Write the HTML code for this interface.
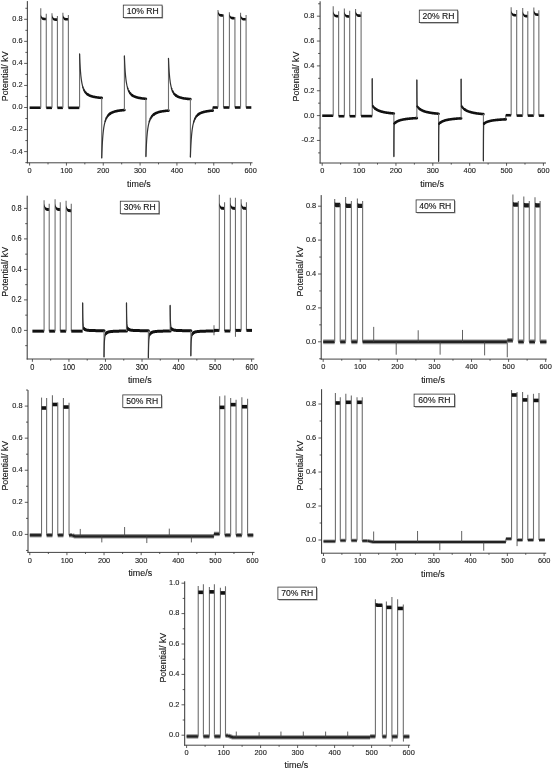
<!DOCTYPE html>
<html><head><meta charset="utf-8"><title>Potential vs time at various RH</title>
<style>html,body{margin:0;padding:0;background:#fff;overflow:hidden;} svg{display:block;}</style></head>
<body><svg width="553" height="769" viewBox="0 0 553 769">
<rect width="553" height="769" fill="#fff"/>
<g>
<line x1="27.35" y1="1.1" x2="27.35" y2="163.3" stroke="#333" stroke-width="1"/>
<line x1="26.85" y1="162.8" x2="252.5" y2="162.8" stroke="#444" stroke-width="1"/>
<line x1="25.35" y1="162.62" x2="27.35" y2="162.62" stroke="#333" stroke-width="0.8"/>
<line x1="24.15" y1="151.6" x2="27.35" y2="151.6" stroke="#333" stroke-width="0.8"/>
<text transform="translate(22.55,153.5) scale(1,0.98)" text-anchor="end" font-size="7.4" font-family="Liberation Sans, Arial, sans-serif" stroke="#1a1a1a" stroke-width="0.12" fill="#1a1a1a">-0.4</text>
<line x1="25.35" y1="140.57" x2="27.35" y2="140.57" stroke="#333" stroke-width="0.8"/>
<line x1="24.15" y1="129.55" x2="27.35" y2="129.55" stroke="#333" stroke-width="0.8"/>
<text transform="translate(22.55,131.45) scale(1,0.98)" text-anchor="end" font-size="7.4" font-family="Liberation Sans, Arial, sans-serif" stroke="#1a1a1a" stroke-width="0.12" fill="#1a1a1a">-0.2</text>
<line x1="25.35" y1="118.53" x2="27.35" y2="118.53" stroke="#333" stroke-width="0.8"/>
<line x1="24.15" y1="107.5" x2="27.35" y2="107.5" stroke="#333" stroke-width="0.8"/>
<text transform="translate(22.55,109.4) scale(1,0.98)" text-anchor="end" font-size="7.4" font-family="Liberation Sans, Arial, sans-serif" stroke="#1a1a1a" stroke-width="0.12" fill="#1a1a1a">0.0</text>
<line x1="25.35" y1="96.47" x2="27.35" y2="96.47" stroke="#333" stroke-width="0.8"/>
<line x1="24.15" y1="85.45" x2="27.35" y2="85.45" stroke="#333" stroke-width="0.8"/>
<text transform="translate(22.55,87.35) scale(1,0.98)" text-anchor="end" font-size="7.4" font-family="Liberation Sans, Arial, sans-serif" stroke="#1a1a1a" stroke-width="0.12" fill="#1a1a1a">0.2</text>
<line x1="25.35" y1="74.43" x2="27.35" y2="74.43" stroke="#333" stroke-width="0.8"/>
<line x1="24.15" y1="63.4" x2="27.35" y2="63.4" stroke="#333" stroke-width="0.8"/>
<text transform="translate(22.55,65.3) scale(1,0.98)" text-anchor="end" font-size="7.4" font-family="Liberation Sans, Arial, sans-serif" stroke="#1a1a1a" stroke-width="0.12" fill="#1a1a1a">0.4</text>
<line x1="25.35" y1="52.38" x2="27.35" y2="52.38" stroke="#333" stroke-width="0.8"/>
<line x1="24.15" y1="41.35" x2="27.35" y2="41.35" stroke="#333" stroke-width="0.8"/>
<text transform="translate(22.55,43.25) scale(1,0.98)" text-anchor="end" font-size="7.4" font-family="Liberation Sans, Arial, sans-serif" stroke="#1a1a1a" stroke-width="0.12" fill="#1a1a1a">0.6</text>
<line x1="25.35" y1="30.33" x2="27.35" y2="30.33" stroke="#333" stroke-width="0.8"/>
<line x1="24.15" y1="19.3" x2="27.35" y2="19.3" stroke="#333" stroke-width="0.8"/>
<text transform="translate(22.55,21.2) scale(1,0.98)" text-anchor="end" font-size="7.4" font-family="Liberation Sans, Arial, sans-serif" stroke="#1a1a1a" stroke-width="0.12" fill="#1a1a1a">0.8</text>
<line x1="25.35" y1="8.27" x2="27.35" y2="8.27" stroke="#333" stroke-width="0.8"/>
<line x1="29.6" y1="162.8" x2="29.6" y2="165.6" stroke="#333" stroke-width="0.8"/>
<text transform="translate(29.6,173.1) scale(1,0.98)" text-anchor="middle" font-size="7.4" font-family="Liberation Sans, Arial, sans-serif" stroke="#1a1a1a" stroke-width="0.12" fill="#1a1a1a">0</text>
<line x1="48.02" y1="162.8" x2="48.02" y2="164.4" stroke="#333" stroke-width="0.8"/>
<line x1="66.43" y1="162.8" x2="66.43" y2="165.6" stroke="#333" stroke-width="0.8"/>
<text transform="translate(66.43,173.1) scale(1,0.98)" text-anchor="middle" font-size="7.4" font-family="Liberation Sans, Arial, sans-serif" stroke="#1a1a1a" stroke-width="0.12" fill="#1a1a1a">100</text>
<line x1="84.84" y1="162.8" x2="84.84" y2="164.4" stroke="#333" stroke-width="0.8"/>
<line x1="103.26" y1="162.8" x2="103.26" y2="165.6" stroke="#333" stroke-width="0.8"/>
<text transform="translate(103.26,173.1) scale(1,0.98)" text-anchor="middle" font-size="7.4" font-family="Liberation Sans, Arial, sans-serif" stroke="#1a1a1a" stroke-width="0.12" fill="#1a1a1a">200</text>
<line x1="121.68" y1="162.8" x2="121.68" y2="164.4" stroke="#333" stroke-width="0.8"/>
<line x1="140.09" y1="162.8" x2="140.09" y2="165.6" stroke="#333" stroke-width="0.8"/>
<text transform="translate(140.09,173.1) scale(1,0.98)" text-anchor="middle" font-size="7.4" font-family="Liberation Sans, Arial, sans-serif" stroke="#1a1a1a" stroke-width="0.12" fill="#1a1a1a">300</text>
<line x1="158.5" y1="162.8" x2="158.5" y2="164.4" stroke="#333" stroke-width="0.8"/>
<line x1="176.92" y1="162.8" x2="176.92" y2="165.6" stroke="#333" stroke-width="0.8"/>
<text transform="translate(176.92,173.1) scale(1,0.98)" text-anchor="middle" font-size="7.4" font-family="Liberation Sans, Arial, sans-serif" stroke="#1a1a1a" stroke-width="0.12" fill="#1a1a1a">400</text>
<line x1="195.34" y1="162.8" x2="195.34" y2="164.4" stroke="#333" stroke-width="0.8"/>
<line x1="213.75" y1="162.8" x2="213.75" y2="165.6" stroke="#333" stroke-width="0.8"/>
<text transform="translate(213.75,173.1) scale(1,0.98)" text-anchor="middle" font-size="7.4" font-family="Liberation Sans, Arial, sans-serif" stroke="#1a1a1a" stroke-width="0.12" fill="#1a1a1a">500</text>
<line x1="232.16" y1="162.8" x2="232.16" y2="164.4" stroke="#333" stroke-width="0.8"/>
<line x1="250.58" y1="162.8" x2="250.58" y2="165.6" stroke="#333" stroke-width="0.8"/>
<text transform="translate(250.58,173.1) scale(1,0.98)" text-anchor="middle" font-size="7.4" font-family="Liberation Sans, Arial, sans-serif" stroke="#1a1a1a" stroke-width="0.12" fill="#1a1a1a">600</text>
<text x="138.93" y="186.6" text-anchor="middle" font-size="8.9" font-family="Liberation Sans, Arial, sans-serif" stroke="#222" stroke-width="0.12" fill="#111">time/s</text>
<text transform="translate(7.8,76.35) rotate(-90)" text-anchor="middle" font-size="8.9" font-family="Liberation Sans, Arial, sans-serif" stroke="#222" stroke-width="0.12" fill="#111">Potential/ kV</text>
<rect x="124.3" y="6.1" width="38.8" height="12.5" fill="#999"/>
<rect x="123.3" y="5.1" width="38.8" height="12.5" fill="#fff" stroke="#333" stroke-width="0.8"/>
<text x="142.7" y="14.25" text-anchor="middle" font-size="8.6" font-family="Liberation Sans, Arial, sans-serif" stroke="#222" stroke-width="0.12" fill="#111">10% RH</text>
<polyline points="29.6,107.72 40.76,107.72" fill="none" stroke="#111" stroke-width="2.6" stroke-linejoin="round"/>
<polyline points="40.76,107.72 40.76,8.27" fill="none" stroke="#6e6e6e" stroke-width="1.1"/>
<polygon points="40.83,14.45 41.22,15.68 41.61,16.44 42,16.91 42.39,17.2 42.78,17.38 43.17,17.49 43.56,17.56 43.95,17.6 44.34,17.63 44.73,17.64 45.12,17.65 45.51,17.66 45.89,17.66 46.28,17.67 46.28,20.27 45.89,20.26 45.51,20.26 45.12,20.25 44.73,20.24 44.34,20.23 43.95,20.2 43.56,20.16 43.17,20.09 42.78,19.98 42.39,19.8 42,19.51 41.61,19.04 41.22,18.28 40.83,17.05" fill="#111"/>
<polyline points="46.28,13.79 46.28,107.83" fill="none" stroke="#6e6e6e" stroke-width="1.1"/>
<polyline points="46.28,107.83 51.99,107.83" fill="none" stroke="#111" stroke-width="2.6" stroke-linejoin="round"/>
<polyline points="51.99,107.83 51.99,13.24" fill="none" stroke="#6e6e6e" stroke-width="1.1"/>
<polygon points="52.07,15.01 52.45,16.26 52.83,17.04 53.21,17.52 53.59,17.83 53.97,18.02 54.36,18.13 54.74,18.21 55.12,18.25 55.5,18.28 55.88,18.3 56.26,18.31 56.64,18.32 57.03,18.32 57.41,18.33 57.41,20.93 57.03,20.92 56.64,20.92 56.26,20.91 55.88,20.9 55.5,20.88 55.12,20.85 54.74,20.81 54.36,20.73 53.97,20.62 53.59,20.43 53.21,20.12 52.83,19.64 52.45,18.86 52.07,17.61" fill="#111"/>
<polyline points="57.41,15.99 57.41,107.83" fill="none" stroke="#6e6e6e" stroke-width="1.1"/>
<polyline points="57.41,107.83 62.89,107.83" fill="none" stroke="#111" stroke-width="2.6" stroke-linejoin="round"/>
<polyline points="62.89,107.83 62.89,12.69" fill="none" stroke="#6e6e6e" stroke-width="1.1"/>
<polygon points="62.97,14.98 63.35,16.13 63.74,16.84 64.13,17.28 64.51,17.55 64.9,17.72 65.29,17.83 65.67,17.89 66.06,17.93 66.45,17.96 66.84,17.97 67.22,17.98 67.61,17.99 68,17.99 68.38,18 68.38,20.6 68,20.59 67.61,20.59 67.22,20.58 66.84,20.57 66.45,20.56 66.06,20.53 65.67,20.49 65.29,20.43 64.9,20.32 64.51,20.15 64.13,19.88 63.74,19.44 63.35,18.73 62.97,17.58" fill="#111"/>
<polyline points="68.38,14.89 68.38,107.83" fill="none" stroke="#6e6e6e" stroke-width="1.1"/>
<polyline points="68.38,107.83 79.32,107.83" fill="none" stroke="#111" stroke-width="2.6" stroke-linejoin="round"/>
<polyline points="79.58,107.5 79.58,53.92" fill="none" stroke="#6e6e6e" stroke-width="1.1"/>
<polyline points="79.58,53.92 79.58,53.96 79.58,54.11 79.59,54.38 79.61,54.78 79.63,55.31 79.65,55.98 79.68,56.76 79.72,57.67 79.76,58.68 79.81,59.79 79.86,60.98 79.92,62.23 79.98,63.54 80.06,64.89 80.14,66.27 80.22,67.66 80.31,69.06 80.41,70.44 80.51,71.81 80.63,73.15 80.75,74.46 80.87,75.73 81,76.96 81.14,78.14 81.29,79.28 81.45,80.36 81.61,81.4 81.78,82.38 81.95,83.32 82.14,84.2 82.33,85.04 82.53,85.84 82.73,86.58 82.95,87.29" fill="none" stroke="#333333" stroke-width="1.2" stroke-linejoin="round" stroke-linecap="round"/>
<polyline points="82.95,87.29 83.17,87.95 83.4,88.58 83.64,89.16 83.88,89.72 84.13,90.24" fill="none" stroke="#2a2a2a" stroke-width="1.55" stroke-linejoin="round" stroke-linecap="round"/>
<polyline points="84.13,90.24 84.4,90.72 84.66,91.18 84.94,91.61 85.23,92.02 85.52,92.4" fill="none" stroke="#222222" stroke-width="1.9" stroke-linejoin="round" stroke-linecap="round"/>
<polyline points="85.52,92.4 85.82,92.76 86.13,93.09 86.45,93.41 86.77,93.7 87.11,93.98 87.45,94.25" fill="none" stroke="#191919" stroke-width="2.25" stroke-linejoin="round" stroke-linecap="round"/>
<polyline points="87.45,94.25 87.8,94.49 88.16,94.73 88.53,94.94 88.9,95.15 89.29,95.35 89.68,95.53 90.08,95.7 90.49,95.87 90.91,96.02 91.33,96.17 91.77,96.3 92.21,96.43 92.66,96.56 93.13,96.68 93.6,96.79 94.08,96.89 94.56,96.99 95.06,97.08 95.56,97.17 96.08,97.26 96.6,97.34 97.13,97.42 97.67,97.49 98.22,97.56 98.78,97.62 99.35,97.69 99.93,97.75 100.51,97.8 101.11,97.86 101.71,97.91" fill="none" stroke="#111111" stroke-width="2.6" stroke-linejoin="round" stroke-linecap="round"/>
<polyline points="101.71,97.91 101.71,157.88" fill="none" stroke="#6e6e6e" stroke-width="1.1"/>
<polyline points="101.71,157.88 101.71,157.84 101.72,157.67 101.73,157.37 101.74,156.92 101.76,156.33 101.79,155.59 101.82,154.72 101.86,153.71 101.9,152.59 101.95,151.37 102,150.05 102.06,148.66 102.13,147.21 102.2,145.72 102.28,144.21 102.37,142.67 102.46,141.14 102.57,139.63 102.67,138.13 102.79,136.66 102.91,135.23 103.04,133.85 103.17,132.51 103.32,131.22 103.47,129.99 103.63,128.81 103.79,127.69 103.97,126.63 104.15,125.62 104.34,124.66 104.53,123.76 104.74,122.9 104.95,122.1 105.17,121.34" fill="none" stroke="#333333" stroke-width="1.2" stroke-linejoin="round" stroke-linecap="round"/>
<polyline points="105.17,121.34 105.39,120.63 105.63,119.96 105.87,119.33 106.12,118.74 106.38,118.18" fill="none" stroke="#2a2a2a" stroke-width="1.55" stroke-linejoin="round" stroke-linecap="round"/>
<polyline points="106.38,118.18 106.65,117.66 106.93,117.17 107.21,116.71 107.5,116.28 107.8,115.88 108.11,115.5" fill="none" stroke="#222222" stroke-width="1.9" stroke-linejoin="round" stroke-linecap="round"/>
<polyline points="108.11,115.5 108.43,115.14 108.75,114.8 109.09,114.49 109.43,114.19 109.78,113.91" fill="none" stroke="#191919" stroke-width="2.25" stroke-linejoin="round" stroke-linecap="round"/>
<polyline points="109.78,113.91 110.14,113.65 110.51,113.4 110.88,113.17 111.27,112.95 111.66,112.74 112.06,112.55 112.48,112.37 112.9,112.19 113.32,112.03 113.76,111.87 114.21,111.73 114.66,111.59 115.13,111.46 115.6,111.34 116.08,111.22 116.57,111.11 117.07,111 117.58,110.9 118.1,110.81 118.63,110.72 119.16,110.64 119.71,110.56 120.26,110.48 120.82,110.41 121.4,110.34 121.98,110.27 122.57,110.21 123.17,110.15 123.78,110.09 124.4,110.04" fill="none" stroke="#111111" stroke-width="2.6" stroke-linejoin="round" stroke-linecap="round"/>
<polyline points="124.4,110.04 124.4,55.9" fill="none" stroke="#6e6e6e" stroke-width="1.1"/>
<polyline points="124.4,55.9 124.4,55.94 124.41,56.08 124.42,56.34 124.43,56.72 124.45,57.23 124.47,57.86 124.5,58.61 124.54,59.47 124.58,60.43 124.62,61.49 124.67,62.62 124.73,63.82 124.8,65.08 124.87,66.38 124.94,67.7 125.02,69.04 125.11,70.38 125.21,71.72 125.31,73.04 125.42,74.34 125.53,75.61 125.66,76.85 125.79,78.04 125.92,79.2 126.06,80.3 126.21,81.36 126.37,82.38 126.54,83.35 126.71,84.26 126.89,85.14 127.07,85.96 127.27,86.74 127.47,87.48 127.67,88.18" fill="none" stroke="#333333" stroke-width="1.2" stroke-linejoin="round" stroke-linecap="round"/>
<polyline points="127.67,88.18 127.89,88.83 128.11,89.45 128.34,90.04 128.58,90.58 128.83,91.1" fill="none" stroke="#2a2a2a" stroke-width="1.55" stroke-linejoin="round" stroke-linecap="round"/>
<polyline points="128.83,91.1 129.08,91.59 129.34,92.04 129.61,92.47 129.89,92.88 130.17,93.25" fill="none" stroke="#222222" stroke-width="1.9" stroke-linejoin="round" stroke-linecap="round"/>
<polyline points="130.17,93.25 130.47,93.61 130.77,93.95 131.08,94.26 131.39,94.56 131.72,94.84 132.05,95.1" fill="none" stroke="#191919" stroke-width="2.25" stroke-linejoin="round" stroke-linecap="round"/>
<polyline points="132.05,95.1 132.39,95.35 132.74,95.58 133.09,95.8 133.46,96.01 133.83,96.21 134.21,96.39 134.6,96.57 135,96.73 135.41,96.89 135.82,97.03 136.25,97.17 136.68,97.3 137.12,97.43 137.57,97.54 138.02,97.66 138.49,97.76 138.96,97.86 139.44,97.96 139.93,98.05 140.43,98.13 140.94,98.21 141.46,98.29 141.98,98.37 142.52,98.44 143.06,98.5 143.61,98.57 144.17,98.63 144.74,98.68 145.32,98.74 145.91,98.79" fill="none" stroke="#111111" stroke-width="2.6" stroke-linejoin="round" stroke-linecap="round"/>
<polyline points="145.91,98.79 145.91,156.56" fill="none" stroke="#6e6e6e" stroke-width="1.1"/>
<polyline points="145.91,156.56 145.91,156.52 145.92,156.36 145.93,156.07 145.94,155.64 145.96,155.07 145.98,154.37 146.02,153.53 146.05,152.57 146.09,151.5 146.14,150.32 146.2,149.06 146.26,147.73 146.32,146.35 146.4,144.92 146.48,143.46 146.56,142 146.66,140.53 146.76,139.07 146.86,137.63 146.98,136.23 147.1,134.85 147.23,133.52 147.36,132.24 147.51,131 147.66,129.82 147.81,128.69 147.98,127.61 148.15,126.58 148.33,125.61 148.52,124.69 148.71,123.82 148.92,123 149.13,122.23 149.35,121.5" fill="none" stroke="#333333" stroke-width="1.2" stroke-linejoin="round" stroke-linecap="round"/>
<polyline points="149.35,121.5 149.57,120.81 149.81,120.17 150.05,119.56 150.3,118.99 150.56,118.45" fill="none" stroke="#2a2a2a" stroke-width="1.55" stroke-linejoin="round" stroke-linecap="round"/>
<polyline points="150.56,118.45 150.82,117.95 151.1,117.48 151.38,117.04 151.67,116.62 151.97,116.23" fill="none" stroke="#222222" stroke-width="1.9" stroke-linejoin="round" stroke-linecap="round"/>
<polyline points="151.97,116.23 152.28,115.86 152.59,115.52 152.92,115.19 153.25,114.89 153.59,114.6 153.94,114.33" fill="none" stroke="#191919" stroke-width="2.25" stroke-linejoin="round" stroke-linecap="round"/>
<polyline points="153.94,114.33 154.29,114.08 154.66,113.84 155.03,113.61 155.42,113.4 155.81,113.2 156.21,113.02 156.62,112.84 157.04,112.67 157.46,112.51 157.9,112.36 158.34,112.22 158.8,112.09 159.26,111.96 159.73,111.84 160.21,111.73 160.7,111.62 161.19,111.52 161.7,111.43 162.21,111.34 162.74,111.25 163.27,111.17 163.82,111.09 164.37,111.02 164.93,110.94 165.5,110.88 166.08,110.81 166.67,110.75 167.26,110.69 167.87,110.64 168.49,110.59" fill="none" stroke="#111111" stroke-width="2.6" stroke-linejoin="round" stroke-linecap="round"/>
<polyline points="168.49,110.59 168.49,58.33" fill="none" stroke="#6e6e6e" stroke-width="1.1"/>
<polyline points="168.49,58.33 168.49,58.37 168.49,58.5 168.5,58.75 168.52,59.12 168.54,59.61 168.56,60.22 168.59,60.94 168.62,61.78 168.67,62.71 168.71,63.72 168.76,64.82 168.82,65.98 168.89,67.18 168.96,68.43 169.04,69.7 169.12,70.99 169.21,72.27 169.31,73.55 169.41,74.82 169.52,76.06 169.64,77.27 169.77,78.45 169.9,79.59 170.04,80.68 170.18,81.74 170.33,82.74 170.49,83.71 170.66,84.62 170.84,85.49 171.02,86.32 171.21,87.1 171.41,87.83 171.61,88.53" fill="none" stroke="#333333" stroke-width="1.2" stroke-linejoin="round" stroke-linecap="round"/>
<polyline points="171.61,88.53 171.82,89.19 172.04,89.81 172.27,90.39 172.5,90.94 172.75,91.45" fill="none" stroke="#2a2a2a" stroke-width="1.55" stroke-linejoin="round" stroke-linecap="round"/>
<polyline points="172.75,91.45 173,91.94 173.26,92.39 173.52,92.82 173.8,93.22 174.08,93.6 174.37,93.96" fill="none" stroke="#222222" stroke-width="1.9" stroke-linejoin="round" stroke-linecap="round"/>
<polyline points="174.37,93.96 174.67,94.29 174.97,94.61 175.29,94.9 175.61,95.18 175.94,95.44" fill="none" stroke="#191919" stroke-width="2.25" stroke-linejoin="round" stroke-linecap="round"/>
<polyline points="175.94,95.44 176.28,95.69 176.63,95.92 176.98,96.14 177.34,96.34 177.72,96.53 178.1,96.72 178.48,96.89 178.88,97.05 179.29,97.2 179.7,97.35 180.12,97.49 180.55,97.62 180.99,97.74 181.44,97.85 181.9,97.96 182.36,98.07 182.84,98.17 183.32,98.26 183.81,98.35 184.31,98.43 184.82,98.51 185.34,98.59 185.87,98.66 186.4,98.73 186.95,98.79 187.5,98.85 188.06,98.91 188.63,98.97 189.21,99.02 189.8,99.07 190.4,99.12" fill="none" stroke="#111111" stroke-width="2.6" stroke-linejoin="round" stroke-linecap="round"/>
<polyline points="190.4,99.12 190.4,157.11" fill="none" stroke="#6e6e6e" stroke-width="1.1"/>
<polyline points="190.4,157.11 190.4,157.07 190.41,156.91 190.42,156.62 190.43,156.19 190.45,155.62 190.47,154.92 190.5,154.08 190.54,153.12 190.58,152.04 190.63,150.86 190.68,149.6 190.74,148.26 190.81,146.87 190.88,145.43 190.96,143.97 191.05,142.49 191.14,141.01 191.24,139.54 191.34,138.09 191.46,136.67 191.58,135.29 191.7,133.94 191.84,132.64 191.98,131.39 192.13,130.19 192.28,129.04 192.45,127.95 192.62,126.91 192.79,125.92 192.98,124.99 193.17,124.1 193.37,123.27 193.58,122.48 193.8,121.74" fill="none" stroke="#333333" stroke-width="1.2" stroke-linejoin="round" stroke-linecap="round"/>
<polyline points="193.8,121.74 194.02,121.04 194.25,120.38 194.49,119.77 194.74,119.18 194.99,118.64" fill="none" stroke="#2a2a2a" stroke-width="1.55" stroke-linejoin="round" stroke-linecap="round"/>
<polyline points="194.99,118.64 195.26,118.12 195.53,117.64 195.81,117.19 196.09,116.76 196.39,116.36 196.69,115.99" fill="none" stroke="#222222" stroke-width="1.9" stroke-linejoin="round" stroke-linecap="round"/>
<polyline points="196.69,115.99 197.01,115.64 197.33,115.31 197.65,114.99 197.99,114.7 198.34,114.43" fill="none" stroke="#191919" stroke-width="2.25" stroke-linejoin="round" stroke-linecap="round"/>
<polyline points="198.34,114.43 198.69,114.17 199.05,113.92 199.42,113.69 199.8,113.48 200.19,113.27 200.58,113.08 200.99,112.9 201.4,112.73 201.82,112.56 202.25,112.41 202.69,112.27 203.14,112.13 203.6,112 204.06,111.88 204.53,111.76 205.02,111.65 205.51,111.55 206.01,111.45 206.52,111.36 207.04,111.27 207.56,111.18 208.1,111.1 208.65,111.03 209.2,110.95 209.76,110.89 210.34,110.82 210.92,110.76 211.51,110.7 212.11,110.64 212.72,110.59" fill="none" stroke="#111111" stroke-width="2.6" stroke-linejoin="round" stroke-linecap="round"/>
<polyline points="212.72,110.59 212.72,107.5" fill="none" stroke="#444" stroke-width="0.85"/>
<polyline points="212.72,107.5 217.99,107.5" fill="none" stroke="#111" stroke-width="2.6" stroke-linejoin="round"/>
<polyline points="217.99,107.5 217.99,9.93" fill="none" stroke="#6e6e6e" stroke-width="1.1"/>
<polygon points="218.06,11.12 218.45,12.27 218.84,12.99 219.23,13.43 219.62,13.7 220.01,13.87 220.4,13.97 220.78,14.04 221.17,14.08 221.56,14.1 221.95,14.12 222.34,14.13 222.73,14.13 223.12,14.14 223.51,14.14 223.51,16.74 223.12,16.74 222.73,16.73 222.34,16.73 221.95,16.72 221.56,16.7 221.17,16.68 220.78,16.64 220.4,16.57 220.01,16.47 219.62,16.3 219.23,16.03 218.84,15.59 218.45,14.87 218.06,13.72" fill="#111"/>
<polyline points="223.51,14.89 223.51,107.5" fill="none" stroke="#6e6e6e" stroke-width="1.1"/>
<polyline points="223.51,107.5 229.4,107.5" fill="none" stroke="#111" stroke-width="2.6" stroke-linejoin="round"/>
<polyline points="229.4,107.5 229.4,12.13" fill="none" stroke="#6e6e6e" stroke-width="1.1"/>
<polygon points="229.48,13.88 229.87,15.03 230.26,15.74 230.64,16.18 231.03,16.46 231.42,16.62 231.81,16.73 232.2,16.79 232.59,16.83 232.98,16.86 233.37,16.87 233.76,16.88 234.15,16.89 234.54,16.89 234.93,16.89 234.93,19.49 234.54,19.49 234.15,19.49 233.76,19.48 233.37,19.47 232.98,19.46 232.59,19.43 232.2,19.39 231.81,19.33 231.42,19.22 231.03,19.06 230.64,18.78 230.26,18.34 229.87,17.63 229.48,16.48" fill="#111"/>
<polyline points="234.93,17.09 234.93,107.5" fill="none" stroke="#6e6e6e" stroke-width="1.1"/>
<polyline points="234.93,107.5 240.56,107.5" fill="none" stroke="#111" stroke-width="2.6" stroke-linejoin="round"/>
<polyline points="240.56,107.5 240.56,12.69" fill="none" stroke="#6e6e6e" stroke-width="1.1"/>
<polygon points="240.64,14.48 241.03,15.82 241.41,16.65 241.8,17.17 242.19,17.48 242.58,17.68 242.97,17.8 243.36,17.88 243.75,17.92 244.14,17.95 244.53,17.97 244.92,17.98 245.31,17.99 245.7,17.99 246.09,18 246.09,20.6 245.7,20.59 245.31,20.59 244.92,20.58 244.53,20.57 244.14,20.55 243.75,20.52 243.36,20.48 242.97,20.4 242.58,20.28 242.19,20.08 241.8,19.77 241.41,19.25 241.03,18.42 240.64,17.08" fill="#111"/>
<polyline points="246.09,14.89 246.09,107.5" fill="none" stroke="#6e6e6e" stroke-width="1.1"/>
<polyline points="246.09,107.5 251.32,107.5" fill="none" stroke="#111" stroke-width="2.6" stroke-linejoin="round"/>
</g>
<g>
<line x1="320.1" y1="1.3" x2="320.1" y2="163.5" stroke="#333" stroke-width="1"/>
<line x1="319.6" y1="163" x2="546" y2="163" stroke="#444" stroke-width="1"/>
<line x1="318.1" y1="152.88" x2="320.1" y2="152.88" stroke="#333" stroke-width="0.8"/>
<line x1="316.9" y1="140.45" x2="320.1" y2="140.45" stroke="#333" stroke-width="0.8"/>
<text transform="translate(314.35,142.43) scale(1,1.01)" text-anchor="end" font-size="7.4" font-family="Liberation Sans, Arial, sans-serif" stroke="#1a1a1a" stroke-width="0.12" fill="#1a1a1a">-0.2</text>
<line x1="318.1" y1="128.03" x2="320.1" y2="128.03" stroke="#333" stroke-width="0.8"/>
<line x1="316.9" y1="115.6" x2="320.1" y2="115.6" stroke="#333" stroke-width="0.8"/>
<text transform="translate(314.35,117.58) scale(1,1.01)" text-anchor="end" font-size="7.4" font-family="Liberation Sans, Arial, sans-serif" stroke="#1a1a1a" stroke-width="0.12" fill="#1a1a1a">0.0</text>
<line x1="318.1" y1="103.17" x2="320.1" y2="103.17" stroke="#333" stroke-width="0.8"/>
<line x1="316.9" y1="90.75" x2="320.1" y2="90.75" stroke="#333" stroke-width="0.8"/>
<text transform="translate(314.35,92.73) scale(1,1.01)" text-anchor="end" font-size="7.4" font-family="Liberation Sans, Arial, sans-serif" stroke="#1a1a1a" stroke-width="0.12" fill="#1a1a1a">0.2</text>
<line x1="318.1" y1="78.32" x2="320.1" y2="78.32" stroke="#333" stroke-width="0.8"/>
<line x1="316.9" y1="65.9" x2="320.1" y2="65.9" stroke="#333" stroke-width="0.8"/>
<text transform="translate(314.35,67.88) scale(1,1.01)" text-anchor="end" font-size="7.4" font-family="Liberation Sans, Arial, sans-serif" stroke="#1a1a1a" stroke-width="0.12" fill="#1a1a1a">0.4</text>
<line x1="318.1" y1="53.47" x2="320.1" y2="53.47" stroke="#333" stroke-width="0.8"/>
<line x1="316.9" y1="41.05" x2="320.1" y2="41.05" stroke="#333" stroke-width="0.8"/>
<text transform="translate(314.35,43.03) scale(1,1.01)" text-anchor="end" font-size="7.4" font-family="Liberation Sans, Arial, sans-serif" stroke="#1a1a1a" stroke-width="0.12" fill="#1a1a1a">0.6</text>
<line x1="318.1" y1="28.62" x2="320.1" y2="28.62" stroke="#333" stroke-width="0.8"/>
<line x1="316.9" y1="16.2" x2="320.1" y2="16.2" stroke="#333" stroke-width="0.8"/>
<text transform="translate(314.35,18.18) scale(1,1.01)" text-anchor="end" font-size="7.4" font-family="Liberation Sans, Arial, sans-serif" stroke="#1a1a1a" stroke-width="0.12" fill="#1a1a1a">0.8</text>
<line x1="318.1" y1="3.77" x2="320.1" y2="3.77" stroke="#333" stroke-width="0.8"/>
<line x1="322.2" y1="163" x2="322.2" y2="165.8" stroke="#333" stroke-width="0.8"/>
<text transform="translate(322.2,173.38) scale(1,1.01)" text-anchor="middle" font-size="7.4" font-family="Liberation Sans, Arial, sans-serif" stroke="#1a1a1a" stroke-width="0.12" fill="#1a1a1a">0</text>
<line x1="340.63" y1="163" x2="340.63" y2="164.6" stroke="#333" stroke-width="0.8"/>
<line x1="359.07" y1="163" x2="359.07" y2="165.8" stroke="#333" stroke-width="0.8"/>
<text transform="translate(359.07,173.38) scale(1,1.01)" text-anchor="middle" font-size="7.4" font-family="Liberation Sans, Arial, sans-serif" stroke="#1a1a1a" stroke-width="0.12" fill="#1a1a1a">100</text>
<line x1="377.5" y1="163" x2="377.5" y2="164.6" stroke="#333" stroke-width="0.8"/>
<line x1="395.94" y1="163" x2="395.94" y2="165.8" stroke="#333" stroke-width="0.8"/>
<text transform="translate(395.94,173.38) scale(1,1.01)" text-anchor="middle" font-size="7.4" font-family="Liberation Sans, Arial, sans-serif" stroke="#1a1a1a" stroke-width="0.12" fill="#1a1a1a">200</text>
<line x1="414.38" y1="163" x2="414.38" y2="164.6" stroke="#333" stroke-width="0.8"/>
<line x1="432.81" y1="163" x2="432.81" y2="165.8" stroke="#333" stroke-width="0.8"/>
<text transform="translate(432.81,173.38) scale(1,1.01)" text-anchor="middle" font-size="7.4" font-family="Liberation Sans, Arial, sans-serif" stroke="#1a1a1a" stroke-width="0.12" fill="#1a1a1a">300</text>
<line x1="451.25" y1="163" x2="451.25" y2="164.6" stroke="#333" stroke-width="0.8"/>
<line x1="469.68" y1="163" x2="469.68" y2="165.8" stroke="#333" stroke-width="0.8"/>
<text transform="translate(469.68,173.38) scale(1,1.01)" text-anchor="middle" font-size="7.4" font-family="Liberation Sans, Arial, sans-serif" stroke="#1a1a1a" stroke-width="0.12" fill="#1a1a1a">400</text>
<line x1="488.12" y1="163" x2="488.12" y2="164.6" stroke="#333" stroke-width="0.8"/>
<line x1="506.55" y1="163" x2="506.55" y2="165.8" stroke="#333" stroke-width="0.8"/>
<text transform="translate(506.55,173.38) scale(1,1.01)" text-anchor="middle" font-size="7.4" font-family="Liberation Sans, Arial, sans-serif" stroke="#1a1a1a" stroke-width="0.12" fill="#1a1a1a">500</text>
<line x1="524.99" y1="163" x2="524.99" y2="164.6" stroke="#333" stroke-width="0.8"/>
<line x1="543.42" y1="163" x2="543.42" y2="165.8" stroke="#333" stroke-width="0.8"/>
<text transform="translate(543.42,173.38) scale(1,1.01)" text-anchor="middle" font-size="7.4" font-family="Liberation Sans, Arial, sans-serif" stroke="#1a1a1a" stroke-width="0.12" fill="#1a1a1a">600</text>
<text x="432.05" y="186.8" text-anchor="middle" font-size="8.9" font-family="Liberation Sans, Arial, sans-serif" stroke="#222" stroke-width="0.12" fill="#111">time/s</text>
<text transform="translate(299,76.55) rotate(-90)" text-anchor="middle" font-size="8.9" font-family="Liberation Sans, Arial, sans-serif" stroke="#222" stroke-width="0.12" fill="#111">Potential/ kV</text>
<rect x="420.3" y="11.1" width="38.4" height="12.5" fill="#999"/>
<rect x="419.3" y="10.1" width="38.4" height="12.5" fill="#fff" stroke="#333" stroke-width="0.8"/>
<text x="438.5" y="19.25" text-anchor="middle" font-size="8.6" font-family="Liberation Sans, Arial, sans-serif" stroke="#222" stroke-width="0.12" fill="#111">20% RH</text>
<polyline points="322.2,115.72 333.22,115.72" fill="none" stroke="#111" stroke-width="2.6" stroke-linejoin="round"/>
<polyline points="333.22,115.72 333.22,6.26" fill="none" stroke="#6e6e6e" stroke-width="1.1"/>
<polygon points="333.3,10.93 333.68,12.42 334.06,13.35 334.44,13.93 334.83,14.3 335.21,14.52 335.59,14.66 335.97,14.75 336.35,14.81 336.73,14.84 337.12,14.86 337.5,14.88 337.88,14.89 338.26,14.89 338.64,14.89 338.64,17.49 338.26,17.49 337.88,17.49 337.5,17.48 337.12,17.46 336.73,17.44 336.35,17.41 335.97,17.35 335.59,17.26 335.21,17.12 334.83,16.9 334.44,16.53 334.06,15.95 333.68,15.02 333.3,13.53" fill="#111"/>
<polyline points="338.64,11.23 338.64,116.22" fill="none" stroke="#6e6e6e" stroke-width="1.1"/>
<polyline points="338.64,116.22 344.36,116.22" fill="none" stroke="#111" stroke-width="2.6" stroke-linejoin="round"/>
<polyline points="344.36,116.22 344.36,8.5" fill="none" stroke="#6e6e6e" stroke-width="1.1"/>
<polygon points="344.43,11.52 344.81,12.86 345.18,13.7 345.55,14.24 345.93,14.57 346.3,14.79 346.68,14.92 347.05,15 347.42,15.06 347.8,15.09 348.17,15.11 348.55,15.13 348.92,15.13 349.29,15.14 349.67,15.14 349.67,17.74 349.29,17.74 348.92,17.73 348.55,17.73 348.17,17.71 347.8,17.69 347.42,17.66 347.05,17.6 346.68,17.52 346.3,17.39 345.93,17.17 345.55,16.84 345.18,16.3 344.81,15.46 344.43,14.12" fill="#111"/>
<polyline points="349.67,10.73 349.67,116.22" fill="none" stroke="#6e6e6e" stroke-width="1.1"/>
<polyline points="349.67,116.22 355.57,116.22" fill="none" stroke="#111" stroke-width="2.6" stroke-linejoin="round"/>
<polyline points="355.57,116.22 355.57,9.12" fill="none" stroke="#6e6e6e" stroke-width="1.1"/>
<polygon points="355.64,10.89 356.03,12.23 356.42,13.06 356.81,13.57 357.2,13.89 357.59,14.08 357.98,14.21 358.37,14.28 358.76,14.33 359.15,14.36 359.54,14.37 359.93,14.39 360.32,14.39 360.71,14.4 361.1,14.4 361.1,17 360.71,17 360.32,16.99 359.93,16.99 359.54,16.97 359.15,16.96 358.76,16.93 358.37,16.88 357.98,16.81 357.59,16.68 357.2,16.49 356.81,16.17 356.42,15.66 356.03,14.83 355.64,13.49" fill="#111"/>
<polyline points="361.1,11.85 361.1,116.1" fill="none" stroke="#6e6e6e" stroke-width="1.1"/>
<polyline points="361.1,116.1 372.23,116.1" fill="none" stroke="#111" stroke-width="2.6" stroke-linejoin="round"/>
<polyline points="372.23,115.85 372.23,78.7" fill="none" stroke="#6e6e6e" stroke-width="1.1"/>
<polyline points="372.23,78.7 372.23,79.1 372.24,80.5 372.25,82.89 372.26,86.04 372.28,89.62 372.31,93.24 372.33,96.56 372.37,99.38 372.41,101.58 372.46,103.18 372.51,104.28 372.57,104.99 372.63,105.45 372.7,105.74" fill="none" stroke="#333333" stroke-width="1.2" stroke-linejoin="round" stroke-linecap="round"/>
<polyline points="372.7,105.74 372.78,105.95" fill="none" stroke="#2a2a2a" stroke-width="1.55" stroke-linejoin="round" stroke-linecap="round"/>
<polyline points="372.78,105.95 372.86,106.11 372.95,106.25 373.05,106.39 373.15,106.53 373.26,106.67 373.37,106.82" fill="none" stroke="#222222" stroke-width="1.9" stroke-linejoin="round" stroke-linecap="round"/>
<polyline points="373.37,106.82 373.5,106.96 373.63,107.12 373.76,107.27 373.91,107.43 374.06,107.58 374.22,107.74 374.38,107.9 374.55,108.06 374.73,108.23 374.92,108.39 375.12,108.55 375.32,108.7" fill="none" stroke="#191919" stroke-width="2.25" stroke-linejoin="round" stroke-linecap="round"/>
<polyline points="375.32,108.7 375.53,108.86 375.74,109.02 375.97,109.17 376.2,109.32 376.44,109.48 376.69,109.62 376.94,109.77 377.21,109.91 377.48,110.05 377.76,110.19 378.04,110.33 378.34,110.46 378.64,110.59 378.95,110.72 379.27,110.84 379.59,110.96 379.93,111.08 380.27,111.2 380.62,111.31 380.98,111.42 381.35,111.52 381.72,111.63 382.11,111.73 382.5,111.83 382.9,111.93 383.31,112.02 383.73,112.11 384.15,112.2 384.59,112.28 385.03,112.37 385.48,112.45 385.94,112.53 386.41,112.61 386.88,112.68 387.37,112.75 387.86,112.83 388.37,112.89 388.88,112.96 389.4,113.03 389.93,113.09 390.46,113.15 391.01,113.21 391.57,113.27 392.13,113.33 392.7,113.38 393.28,113.44 393.88,113.49" fill="none" stroke="#111111" stroke-width="2.6" stroke-linejoin="round" stroke-linecap="round"/>
<polyline points="393.88,113.49 393.88,156.6" fill="none" stroke="#6e6e6e" stroke-width="1.1"/>
<polyline points="393.88,156.6 393.88,156.08 393.88,154.26 393.89,151.17 393.91,147.13 393.93,142.6 393.95,138.08 393.98,134 394.02,130.63 394.06,128.07 394.11,126.27 394.17,125.08 394.23,124.35 394.3,123.91 394.37,123.64" fill="none" stroke="#333333" stroke-width="1.2" stroke-linejoin="round" stroke-linecap="round"/>
<polyline points="394.37,123.64 394.45,123.47" fill="none" stroke="#2a2a2a" stroke-width="1.55" stroke-linejoin="round" stroke-linecap="round"/>
<polyline points="394.45,123.47 394.54,123.34" fill="none" stroke="#222222" stroke-width="1.9" stroke-linejoin="round" stroke-linecap="round"/>
<polyline points="394.54,123.34 394.64,123.24 394.74,123.13 394.85,123.03 394.96,122.93 395.09,122.82 395.22,122.71 395.35,122.6 395.5,122.49" fill="none" stroke="#191919" stroke-width="2.25" stroke-linejoin="round" stroke-linecap="round"/>
<polyline points="395.5,122.49 395.65,122.37 395.81,122.26 395.98,122.14 396.16,122.02 396.34,121.91 396.53,121.79 396.73,121.67 396.94,121.56 397.15,121.44 397.37,121.33 397.6,121.22 397.84,121.11 398.09,121 398.34,120.89 398.6,120.78 398.87,120.68 399.15,120.58 399.44,120.48 399.74,120.38 400.04,120.28 400.35,120.19 400.67,120.1 401,120.01 401.34,119.92 401.69,119.84 402.04,119.75 402.41,119.67 402.78,119.59 403.16,119.52 403.55,119.44 403.95,119.37 404.36,119.3 404.77,119.23 405.2,119.16 405.63,119.1 406.07,119.03 406.53,118.97 406.99,118.91 407.46,118.85 407.93,118.8 408.42,118.74 408.92,118.69 409.43,118.64 409.94,118.59 410.46,118.54 411,118.49 411.54,118.45 412.09,118.4 412.65,118.36 413.22,118.31 413.8,118.27 414.39,118.23 414.99,118.2 415.6,118.16 416.22,118.12 416.85,118.08" fill="none" stroke="#111111" stroke-width="2.6" stroke-linejoin="round" stroke-linecap="round"/>
<polyline points="416.85,118.08 416.85,79.94" fill="none" stroke="#6e6e6e" stroke-width="1.1"/>
<polyline points="416.85,79.94 416.85,80.33 416.85,81.7 416.86,84.03 416.88,87.11 416.89,90.59 416.92,94.12 416.95,97.35 416.98,100.08 417.02,102.21 417.07,103.76 417.12,104.82 417.18,105.51 417.24,105.95 417.32,106.23" fill="none" stroke="#333333" stroke-width="1.2" stroke-linejoin="round" stroke-linecap="round"/>
<polyline points="417.32,106.23 417.39,106.43" fill="none" stroke="#2a2a2a" stroke-width="1.55" stroke-linejoin="round" stroke-linecap="round"/>
<polyline points="417.39,106.43 417.48,106.58 417.57,106.72 417.66,106.86 417.77,106.99 417.88,107.13" fill="none" stroke="#222222" stroke-width="1.9" stroke-linejoin="round" stroke-linecap="round"/>
<polyline points="417.88,107.13 417.99,107.27 418.12,107.41 418.25,107.56 418.38,107.71 418.53,107.86 418.68,108.02 418.84,108.17 419.01,108.33 419.18,108.48 419.36,108.64 419.55,108.79 419.74,108.95" fill="none" stroke="#191919" stroke-width="2.25" stroke-linejoin="round" stroke-linecap="round"/>
<polyline points="419.74,108.95 419.95,109.1 420.16,109.26 420.37,109.41 420.6,109.56 420.83,109.71 421.07,109.85 421.32,110 421.58,110.14 421.84,110.28 422.12,110.41 422.4,110.55 422.68,110.68 422.98,110.81 423.28,110.93 423.6,111.05 423.92,111.17 424.24,111.29 424.58,111.41 424.92,111.52 425.28,111.63 425.64,111.73 426.01,111.84 426.38,111.94 426.77,112.04 427.16,112.13 427.57,112.23 427.98,112.32 428.4,112.4 428.83,112.49 429.26,112.57 429.71,112.65 430.16,112.73 430.62,112.81 431.09,112.88 431.57,112.96 432.06,113.03 432.56,113.1 433.06,113.16 433.58,113.23 434.1,113.29 434.63,113.35 435.17,113.41 435.72,113.47 436.28,113.53 436.84,113.58 437.42,113.63 438,113.69 438.6,113.74" fill="none" stroke="#111111" stroke-width="2.6" stroke-linejoin="round" stroke-linecap="round"/>
<polyline points="438.6,113.74 438.6,161.32" fill="none" stroke="#6e6e6e" stroke-width="1.1"/>
<polyline points="438.6,161.32 438.6,160.74 438.61,158.71 438.62,155.26 438.63,150.73 438.65,145.63 438.67,140.53 438.7,135.9 438.74,132.05 438.78,129.1 438.83,127.01 438.88,125.62 438.95,124.76 439.01,124.24 439.09,123.94" fill="none" stroke="#333333" stroke-width="1.2" stroke-linejoin="round" stroke-linecap="round"/>
<polyline points="439.09,123.94 439.17,123.74" fill="none" stroke="#2a2a2a" stroke-width="1.55" stroke-linejoin="round" stroke-linecap="round"/>
<polyline points="439.17,123.74 439.25,123.61" fill="none" stroke="#222222" stroke-width="1.9" stroke-linejoin="round" stroke-linecap="round"/>
<polyline points="439.25,123.61 439.34,123.5 439.44,123.39 439.55,123.29 439.67,123.19 439.79,123.08 439.91,122.97 440.05,122.86 440.19,122.75" fill="none" stroke="#191919" stroke-width="2.25" stroke-linejoin="round" stroke-linecap="round"/>
<polyline points="440.19,122.75 440.34,122.64 440.5,122.52 440.66,122.41 440.84,122.29 441.02,122.18 441.2,122.06 441.4,121.94 441.6,121.83 441.81,121.72 442.03,121.6 442.25,121.49 442.49,121.38 442.73,121.27 442.98,121.16 443.24,121.06 443.5,120.95 443.78,120.85 444.06,120.75 444.35,120.65 444.65,120.55 444.95,120.46 445.27,120.37 445.59,120.28 445.92,120.19 446.26,120.1 446.61,120.02 446.97,119.94 447.33,119.86 447.7,119.78 448.09,119.71 448.48,119.63 448.88,119.56 449.29,119.49 449.7,119.42 450.13,119.36 450.56,119.3 451,119.23 451.46,119.17 451.92,119.11 452.39,119.06 452.87,119 453.35,118.95 453.85,118.89 454.35,118.84 454.87,118.79 455.39,118.75 455.92,118.7 456.47,118.65 457.02,118.61 457.58,118.57 458.14,118.53 458.72,118.48 459.31,118.45 459.91,118.41 460.51,118.37 461.13,118.33" fill="none" stroke="#111111" stroke-width="2.6" stroke-linejoin="round" stroke-linecap="round"/>
<polyline points="461.13,118.33 461.13,79.07" fill="none" stroke="#6e6e6e" stroke-width="1.1"/>
<polyline points="461.13,79.07 461.13,79.48 461.13,80.92 461.14,83.35 461.16,86.56 461.18,90.18 461.2,93.82 461.23,97.14 461.27,99.92 461.31,102.07 461.36,103.62 461.41,104.67 461.47,105.35 461.54,105.78 461.61,106.06" fill="none" stroke="#333333" stroke-width="1.2" stroke-linejoin="round" stroke-linecap="round"/>
<polyline points="461.61,106.06 461.69,106.27" fill="none" stroke="#2a2a2a" stroke-width="1.55" stroke-linejoin="round" stroke-linecap="round"/>
<polyline points="461.69,106.27 461.77,106.43 461.86,106.58 461.96,106.72 462.07,106.87 462.18,107.02 462.3,107.17 462.43,107.33" fill="none" stroke="#222222" stroke-width="1.9" stroke-linejoin="round" stroke-linecap="round"/>
<polyline points="462.43,107.33 462.56,107.49 462.7,107.65 462.85,107.82 463,107.98 463.17,108.15 463.34,108.32 463.52,108.49 463.7,108.66 463.89,108.82 464.09,108.99 464.3,109.16 464.52,109.32" fill="none" stroke="#191919" stroke-width="2.25" stroke-linejoin="round" stroke-linecap="round"/>
<polyline points="464.52,109.32 464.74,109.49 464.97,109.65 465.21,109.81 465.46,109.96 465.71,110.12 465.97,110.27 466.24,110.42 466.52,110.57 466.81,110.71 467.1,110.85 467.41,110.99 467.72,111.12 468.04,111.26 468.36,111.38 468.7,111.51 469.04,111.63 469.4,111.75 469.76,111.87 470.13,111.98 470.51,112.09 470.89,112.2 471.29,112.3 471.69,112.41 472.1,112.51 472.52,112.6 472.95,112.7 473.39,112.79 473.84,112.88 474.29,112.96 474.76,113.05 475.23,113.13 475.71,113.21 476.2,113.28 476.7,113.36 477.21,113.43 477.73,113.5 478.25,113.57 478.79,113.64 479.33,113.7 479.89,113.77 480.45,113.83 481.02,113.89 481.6,113.94 482.19,114 482.79,114.06 483.4,114.11" fill="none" stroke="#111111" stroke-width="2.6" stroke-linejoin="round" stroke-linecap="round"/>
<polyline points="483.4,114.11 483.4,160.83" fill="none" stroke="#6e6e6e" stroke-width="1.1"/>
<polyline points="483.4,160.83 483.4,160.25 483.4,158.26 483.41,154.87 483.43,150.42 483.45,145.4 483.47,140.37 483.5,135.79 483.54,131.98 483.58,129.05 483.63,126.97 483.68,125.59 483.74,124.73 483.81,124.22 483.88,123.92" fill="none" stroke="#333333" stroke-width="1.2" stroke-linejoin="round" stroke-linecap="round"/>
<polyline points="483.88,123.92 483.96,123.75" fill="none" stroke="#2a2a2a" stroke-width="1.55" stroke-linejoin="round" stroke-linecap="round"/>
<polyline points="483.96,123.75 484.04,123.62" fill="none" stroke="#222222" stroke-width="1.9" stroke-linejoin="round" stroke-linecap="round"/>
<polyline points="484.04,123.62 484.14,123.53 484.23,123.44 484.34,123.36" fill="none" stroke="#191919" stroke-width="2.25" stroke-linejoin="round" stroke-linecap="round"/>
<polyline points="484.34,123.36 484.45,123.28 484.57,123.19 484.7,123.1 484.83,123.01 484.98,122.92 485.12,122.83 485.28,122.74 485.44,122.65 485.61,122.55 485.79,122.46 485.98,122.36 486.17,122.27 486.37,122.18 486.58,122.08 486.8,121.99 487.02,121.9 487.25,121.81 487.49,121.72 487.74,121.63 487.99,121.55 488.26,121.46 488.53,121.38 488.81,121.3 489.1,121.22 489.39,121.14 489.7,121.06 490.01,120.99 490.33,120.91 490.66,120.84 491,120.77 491.34,120.7 491.69,120.64 492.06,120.57 492.43,120.51 492.81,120.45 493.19,120.39 493.59,120.33 493.99,120.27 494.41,120.22 494.83,120.17 495.26,120.11 495.7,120.06 496.15,120.01 496.61,119.96 497.07,119.92 497.55,119.87 498.03,119.83 498.52,119.79 499.02,119.74 499.53,119.7 500.05,119.66 500.58,119.63 501.12,119.59 501.66,119.55 502.22,119.52 502.78,119.48 503.35,119.45 503.94,119.42 504.53,119.39 505.13,119.36 505.74,119.33" fill="none" stroke="#111111" stroke-width="2.6" stroke-linejoin="round" stroke-linecap="round"/>
<polyline points="505.74,119.33 505.74,115.23" fill="none" stroke="#444" stroke-width="0.85"/>
<polyline points="505.74,115.23 511.16,115.23" fill="none" stroke="#111" stroke-width="2.6" stroke-linejoin="round"/>
<polyline points="511.16,115.23 511.16,7.25" fill="none" stroke="#6e6e6e" stroke-width="1.1"/>
<polygon points="511.23,10.28 511.62,11.66 512.01,12.52 512.4,13.05 512.79,13.37 513.18,13.58 513.57,13.7 513.96,13.78 514.35,13.83 514.74,13.86 515.13,13.88 515.52,13.89 515.91,13.89 516.3,13.9 516.69,13.9 516.69,16.5 516.3,16.5 515.91,16.49 515.52,16.49 515.13,16.48 514.74,16.46 514.35,16.43 513.96,16.38 513.57,16.3 513.18,16.18 512.79,15.97 512.4,15.65 512.01,15.12 511.62,14.26 511.23,12.88" fill="#111"/>
<polyline points="516.69,10.11 516.69,115.6" fill="none" stroke="#6e6e6e" stroke-width="1.1"/>
<polyline points="516.69,115.6 522.7,115.6" fill="none" stroke="#111" stroke-width="2.6" stroke-linejoin="round"/>
<polyline points="522.7,115.6 522.7,8.12" fill="none" stroke="#6e6e6e" stroke-width="1.1"/>
<polygon points="522.77,11.27 523.13,12.57 523.49,13.4 523.85,13.93 524.21,14.28 524.56,14.5 524.92,14.64 525.28,14.73 525.64,14.79 526,14.83 526.35,14.86 526.71,14.87 527.07,14.88 527.43,14.89 527.79,14.89 527.79,17.49 527.43,17.49 527.07,17.48 526.71,17.47 526.35,17.46 526,17.43 525.64,17.39 525.28,17.33 524.92,17.24 524.56,17.1 524.21,16.88 523.85,16.53 523.49,16 523.13,15.17 522.77,13.87" fill="#111"/>
<polyline points="527.79,11.35 527.79,115.6" fill="none" stroke="#6e6e6e" stroke-width="1.1"/>
<polyline points="527.79,115.6 533.83,115.6" fill="none" stroke="#111" stroke-width="2.6" stroke-linejoin="round"/>
<polyline points="533.83,115.6 533.83,7.5" fill="none" stroke="#6e6e6e" stroke-width="1.1"/>
<polygon points="533.91,10.23 534.26,11.35 534.61,12.08 534.97,12.55 535.32,12.85 535.67,13.05 536.02,13.18 536.38,13.26 536.73,13.31 537.08,13.35 537.44,13.37 537.79,13.38 538.14,13.39 538.5,13.4 538.85,13.4 538.85,16 538.5,16 538.14,15.99 537.79,15.98 537.44,15.97 537.08,15.95 536.73,15.91 536.38,15.86 536.02,15.78 535.67,15.65 535.32,15.45 534.97,15.15 534.61,14.68 534.26,13.95 533.91,12.83" fill="#111"/>
<polyline points="538.85,10.36 538.85,115.6" fill="none" stroke="#6e6e6e" stroke-width="1.1"/>
<polyline points="538.85,115.6 544.16,115.6" fill="none" stroke="#111" stroke-width="2.6" stroke-linejoin="round"/>
</g>
<g>
<line x1="27.2" y1="195.7" x2="27.2" y2="359.5" stroke="#333" stroke-width="1"/>
<line x1="26.7" y1="359" x2="254.3" y2="359" stroke="#444" stroke-width="1"/>
<line x1="25.2" y1="345.65" x2="27.2" y2="345.65" stroke="#333" stroke-width="0.8"/>
<line x1="24" y1="330.4" x2="27.2" y2="330.4" stroke="#333" stroke-width="0.8"/>
<text transform="translate(21.7,332.64) scale(1,1.11)" text-anchor="end" font-size="7.4" font-family="Liberation Sans, Arial, sans-serif" stroke="#1a1a1a" stroke-width="0.12" fill="#1a1a1a">0.0</text>
<line x1="25.2" y1="315.15" x2="27.2" y2="315.15" stroke="#333" stroke-width="0.8"/>
<line x1="24" y1="299.9" x2="27.2" y2="299.9" stroke="#333" stroke-width="0.8"/>
<text transform="translate(21.7,302.14) scale(1,1.11)" text-anchor="end" font-size="7.4" font-family="Liberation Sans, Arial, sans-serif" stroke="#1a1a1a" stroke-width="0.12" fill="#1a1a1a">0.2</text>
<line x1="25.2" y1="284.65" x2="27.2" y2="284.65" stroke="#333" stroke-width="0.8"/>
<line x1="24" y1="269.4" x2="27.2" y2="269.4" stroke="#333" stroke-width="0.8"/>
<text transform="translate(21.7,271.64) scale(1,1.11)" text-anchor="end" font-size="7.4" font-family="Liberation Sans, Arial, sans-serif" stroke="#1a1a1a" stroke-width="0.12" fill="#1a1a1a">0.4</text>
<line x1="25.2" y1="254.15" x2="27.2" y2="254.15" stroke="#333" stroke-width="0.8"/>
<line x1="24" y1="238.9" x2="27.2" y2="238.9" stroke="#333" stroke-width="0.8"/>
<text transform="translate(21.7,241.14) scale(1,1.11)" text-anchor="end" font-size="7.4" font-family="Liberation Sans, Arial, sans-serif" stroke="#1a1a1a" stroke-width="0.12" fill="#1a1a1a">0.6</text>
<line x1="25.2" y1="223.65" x2="27.2" y2="223.65" stroke="#333" stroke-width="0.8"/>
<line x1="24" y1="208.4" x2="27.2" y2="208.4" stroke="#333" stroke-width="0.8"/>
<text transform="translate(21.7,210.64) scale(1,1.11)" text-anchor="end" font-size="7.4" font-family="Liberation Sans, Arial, sans-serif" stroke="#1a1a1a" stroke-width="0.12" fill="#1a1a1a">0.8</text>
<line x1="32.4" y1="359" x2="32.4" y2="361.8" stroke="#333" stroke-width="0.8"/>
<text transform="translate(32.4,369.64) scale(1,1.11)" text-anchor="middle" font-size="7.4" font-family="Liberation Sans, Arial, sans-serif" stroke="#1a1a1a" stroke-width="0.12" fill="#1a1a1a">0</text>
<line x1="50.67" y1="359" x2="50.67" y2="360.6" stroke="#333" stroke-width="0.8"/>
<line x1="68.94" y1="359" x2="68.94" y2="361.8" stroke="#333" stroke-width="0.8"/>
<text transform="translate(68.94,369.64) scale(1,1.11)" text-anchor="middle" font-size="7.4" font-family="Liberation Sans, Arial, sans-serif" stroke="#1a1a1a" stroke-width="0.12" fill="#1a1a1a">100</text>
<line x1="87.21" y1="359" x2="87.21" y2="360.6" stroke="#333" stroke-width="0.8"/>
<line x1="105.48" y1="359" x2="105.48" y2="361.8" stroke="#333" stroke-width="0.8"/>
<text transform="translate(105.48,369.64) scale(1,1.11)" text-anchor="middle" font-size="7.4" font-family="Liberation Sans, Arial, sans-serif" stroke="#1a1a1a" stroke-width="0.12" fill="#1a1a1a">200</text>
<line x1="123.75" y1="359" x2="123.75" y2="360.6" stroke="#333" stroke-width="0.8"/>
<line x1="142.02" y1="359" x2="142.02" y2="361.8" stroke="#333" stroke-width="0.8"/>
<text transform="translate(142.02,369.64) scale(1,1.11)" text-anchor="middle" font-size="7.4" font-family="Liberation Sans, Arial, sans-serif" stroke="#1a1a1a" stroke-width="0.12" fill="#1a1a1a">300</text>
<line x1="160.29" y1="359" x2="160.29" y2="360.6" stroke="#333" stroke-width="0.8"/>
<line x1="178.56" y1="359" x2="178.56" y2="361.8" stroke="#333" stroke-width="0.8"/>
<text transform="translate(178.56,369.64) scale(1,1.11)" text-anchor="middle" font-size="7.4" font-family="Liberation Sans, Arial, sans-serif" stroke="#1a1a1a" stroke-width="0.12" fill="#1a1a1a">400</text>
<line x1="196.83" y1="359" x2="196.83" y2="360.6" stroke="#333" stroke-width="0.8"/>
<line x1="215.1" y1="359" x2="215.1" y2="361.8" stroke="#333" stroke-width="0.8"/>
<text transform="translate(215.1,369.64) scale(1,1.11)" text-anchor="middle" font-size="7.4" font-family="Liberation Sans, Arial, sans-serif" stroke="#1a1a1a" stroke-width="0.12" fill="#1a1a1a">500</text>
<line x1="233.37" y1="359" x2="233.37" y2="360.6" stroke="#333" stroke-width="0.8"/>
<line x1="251.64" y1="359" x2="251.64" y2="361.8" stroke="#333" stroke-width="0.8"/>
<text transform="translate(251.64,369.64) scale(1,1.11)" text-anchor="middle" font-size="7.4" font-family="Liberation Sans, Arial, sans-serif" stroke="#1a1a1a" stroke-width="0.12" fill="#1a1a1a">600</text>
<text x="139.75" y="382.8" text-anchor="middle" font-size="8.9" font-family="Liberation Sans, Arial, sans-serif" stroke="#222" stroke-width="0.12" fill="#111">time/s</text>
<text transform="translate(7.8,271.75) rotate(-90)" text-anchor="middle" font-size="8.9" font-family="Liberation Sans, Arial, sans-serif" stroke="#222" stroke-width="0.12" fill="#111">Potential/ kV</text>
<rect x="121.3" y="202.2" width="38.7" height="12.5" fill="#999"/>
<rect x="120.3" y="201.2" width="38.7" height="12.5" fill="#fff" stroke="#333" stroke-width="0.8"/>
<text x="139.65" y="210.35" text-anchor="middle" font-size="8.6" font-family="Liberation Sans, Arial, sans-serif" stroke="#222" stroke-width="0.12" fill="#111">30% RH</text>
<polyline points="32.4,331.16 44.09,331.16" fill="none" stroke="#111" stroke-width="3.0" stroke-linejoin="round"/>
<polyline points="44.09,331.16 44.09,200.16" fill="none" stroke="#6e6e6e" stroke-width="1.1"/>
<polygon points="44.17,203.51 44.53,205.12 44.89,206.15 45.25,206.81 45.61,207.23 45.97,207.49 46.33,207.66 46.69,207.77 47.05,207.84 47.41,207.89 47.77,207.92 48.13,207.94 48.49,207.95 48.85,207.95 49.21,207.96 49.21,210.96 48.85,210.95 48.49,210.95 48.13,210.94 47.77,210.92 47.41,210.89 47.05,210.84 46.69,210.77 46.33,210.66 45.97,210.49 45.61,210.23 45.25,209.81 44.89,209.15 44.53,208.12 44.17,206.51" fill="#111"/>
<polyline points="49.21,203.82 49.21,331.16" fill="none" stroke="#6e6e6e" stroke-width="1.1"/>
<polyline points="49.21,331.16 55.09,331.16" fill="none" stroke="#111" stroke-width="3.0" stroke-linejoin="round"/>
<polyline points="55.09,331.16 55.09,199.25" fill="none" stroke="#6e6e6e" stroke-width="1.1"/>
<polygon points="55.16,203.51 55.53,205.14 55.9,206.17 56.26,206.83 56.63,207.24 56.99,207.51 57.36,207.68 57.72,207.78 58.09,207.85 58.45,207.89 58.82,207.92 59.18,207.94 59.55,207.95 59.91,207.96 60.28,207.96 60.28,210.96 59.91,210.96 59.55,210.95 59.18,210.94 58.82,210.92 58.45,210.89 58.09,210.85 57.72,210.78 57.36,210.68 56.99,210.51 56.63,210.24 56.26,209.83 55.9,209.17 55.53,208.14 55.16,206.51" fill="#111"/>
<polyline points="60.28,202.3 60.28,331.16" fill="none" stroke="#6e6e6e" stroke-width="1.1"/>
<polyline points="60.28,331.16 66.09,331.16" fill="none" stroke="#111" stroke-width="3.0" stroke-linejoin="round"/>
<polyline points="66.09,331.16 66.09,200.77" fill="none" stroke="#6e6e6e" stroke-width="1.1"/>
<polygon points="66.16,205.01 66.53,206.54 66.89,207.5 67.26,208.12 67.62,208.51 67.99,208.76 68.36,208.91 68.72,209.01 69.09,209.08 69.45,209.12 69.82,209.14 70.18,209.16 70.55,209.17 70.91,209.18 71.28,209.18 71.28,212.18 70.91,212.18 70.55,212.17 70.18,212.16 69.82,212.14 69.45,212.12 69.09,212.08 68.72,212.01 68.36,211.91 67.99,211.76 67.62,211.51 67.26,211.12 66.89,210.5 66.53,209.54 66.16,208.01" fill="#111"/>
<polyline points="71.28,203.82 71.28,331.16" fill="none" stroke="#6e6e6e" stroke-width="1.1"/>
<polyline points="71.28,331.16 82.64,331.16" fill="none" stroke="#111" stroke-width="3.0" stroke-linejoin="round"/>
<polyline points="82.64,330.86 82.64,302.95" fill="none" stroke="#6e6e6e" stroke-width="1.1"/>
<polyline points="82.64,302.95 82.64,303.15 82.65,303.83 82.66,305.01 82.67,306.62 82.69,308.52 82.71,310.59 82.74,312.7 82.78,314.74 82.82,316.64 82.86,318.38 82.91,319.93 82.97,321.29 83.03,322.48 83.1,323.51 83.18,324.4 83.26,325.17 83.35,325.83 83.45,326.4 83.55,326.89 83.65,327.32 83.77,327.69" fill="none" stroke="#333333" stroke-width="1.2" stroke-linejoin="round" stroke-linecap="round"/>
<polyline points="83.77,327.69 83.89,328.01 84.02,328.29" fill="none" stroke="#2a2a2a" stroke-width="1.65" stroke-linejoin="round" stroke-linecap="round"/>
<polyline points="84.02,328.29 84.15,328.54 84.3,328.75 84.45,328.94" fill="none" stroke="#222222" stroke-width="2.1" stroke-linejoin="round" stroke-linecap="round"/>
<polyline points="84.45,328.94 84.6,329.11 84.77,329.26 84.94,329.39" fill="none" stroke="#191919" stroke-width="2.55" stroke-linejoin="round" stroke-linecap="round"/>
<polyline points="84.94,329.39 85.11,329.51 85.3,329.61 85.49,329.71 85.69,329.79 85.9,329.87 86.11,329.94 86.33,330 86.56,330.05 86.8,330.1 87.04,330.15 87.29,330.19 87.55,330.23 87.82,330.27 88.1,330.3 88.38,330.33 88.67,330.36 88.97,330.38 89.28,330.41 89.59,330.43 89.91,330.45 90.24,330.47 90.58,330.48 90.93,330.5 91.28,330.52 91.65,330.53 92.02,330.54 92.4,330.56 92.78,330.57 93.18,330.58 93.58,330.59 93.99,330.6 94.41,330.61 94.84,330.61 95.28,330.62 95.73,330.63 96.18,330.64 96.64,330.64 97.11,330.65 97.59,330.65 98.08,330.66 98.58,330.67 99.08,330.67 99.6,330.67 100.12,330.68 100.65,330.68 101.19,330.69 101.74,330.69 102.29,330.7 102.86,330.7 103.43,330.7 104.02,330.7" fill="none" stroke="#111111" stroke-width="3" stroke-linejoin="round" stroke-linecap="round"/>
<polyline points="104.02,330.7 104.02,356.93" fill="none" stroke="#6e6e6e" stroke-width="1.1"/>
<polyline points="104.02,356.93 104.02,356.81 104.03,356.37 104.03,355.6 104.05,354.51 104.07,353.18 104.09,351.68 104.12,350.07 104.16,348.44 104.2,346.84 104.25,345.31 104.3,343.88 104.36,342.56 104.43,341.37 104.5,340.29 104.58,339.33 104.67,338.47 104.76,337.71 104.86,337.03 104.97,336.44 105.08,335.91 105.2,335.44 105.33,335.02" fill="none" stroke="#333333" stroke-width="1.2" stroke-linejoin="round" stroke-linecap="round"/>
<polyline points="105.33,335.02 105.47,334.65 105.61,334.32 105.76,334.02" fill="none" stroke="#2a2a2a" stroke-width="1.65" stroke-linejoin="round" stroke-linecap="round"/>
<polyline points="105.76,334.02 105.91,333.76 106.08,333.52 106.25,333.31" fill="none" stroke="#222222" stroke-width="2.1" stroke-linejoin="round" stroke-linecap="round"/>
<polyline points="106.25,333.31 106.43,333.12 106.62,332.95 106.81,332.79" fill="none" stroke="#191919" stroke-width="2.55" stroke-linejoin="round" stroke-linecap="round"/>
<polyline points="106.81,332.79 107.01,332.65 107.22,332.52 107.44,332.41 107.66,332.3 107.9,332.2 108.14,332.12 108.39,332.03 108.64,331.96 108.91,331.89 109.18,331.83 109.46,331.77 109.75,331.72 110.05,331.67 110.36,331.62 110.67,331.58 110.99,331.54 111.32,331.5 111.66,331.47 112.01,331.44 112.36,331.41 112.73,331.38 113.1,331.35 113.48,331.33 113.87,331.31 114.27,331.29 114.68,331.27 115.09,331.25 115.52,331.23 115.95,331.21 116.39,331.2 116.84,331.18 117.3,331.17 117.77,331.15 118.25,331.14 118.74,331.13 119.23,331.12 119.74,331.11 120.25,331.1 120.77,331.09 121.3,331.08 121.84,331.07 122.39,331.06 122.95,331.05 123.52,331.04 124.09,331.04 124.68,331.03 125.27,331.02 125.88,331.02 126.49,331.01" fill="none" stroke="#111111" stroke-width="3" stroke-linejoin="round" stroke-linecap="round"/>
<polyline points="126.49,331.01 126.49,302.95" fill="none" stroke="#6e6e6e" stroke-width="1.1"/>
<polyline points="126.49,302.95 126.49,303.15 126.5,303.85 126.51,305.06 126.52,306.69 126.54,308.63 126.56,310.73 126.59,312.85 126.63,314.91 126.67,316.82 126.72,318.55 126.77,320.1 126.83,321.45 126.89,322.63 126.96,323.65 127.04,324.53 127.13,325.29 127.22,325.94 127.31,326.5 127.42,326.98 127.53,327.4" fill="none" stroke="#333333" stroke-width="1.2" stroke-linejoin="round" stroke-linecap="round"/>
<polyline points="127.53,327.4 127.64,327.76 127.77,328.08 127.9,328.35" fill="none" stroke="#2a2a2a" stroke-width="1.65" stroke-linejoin="round" stroke-linecap="round"/>
<polyline points="127.9,328.35 128.04,328.59 128.18,328.8" fill="none" stroke="#222222" stroke-width="2.1" stroke-linejoin="round" stroke-linecap="round"/>
<polyline points="128.18,328.8 128.34,328.99 128.5,329.15 128.66,329.3" fill="none" stroke="#191919" stroke-width="2.55" stroke-linejoin="round" stroke-linecap="round"/>
<polyline points="128.66,329.3 128.84,329.43 129.02,329.54 129.21,329.64 129.41,329.73 129.61,329.82 129.82,329.89 130.04,329.96 130.27,330.02 130.5,330.07 130.75,330.12 131,330.17 131.25,330.21 131.52,330.25 131.79,330.28 132.08,330.31 132.37,330.34 132.66,330.37 132.97,330.39 133.28,330.42 133.6,330.44 133.93,330.46 134.27,330.47 134.62,330.49 134.97,330.51 135.34,330.52 135.71,330.54 136.09,330.55 136.48,330.56 136.87,330.57 137.28,330.58 137.69,330.59 138.11,330.6 138.54,330.61 138.98,330.62 139.43,330.62 139.89,330.63 140.35,330.64 140.83,330.64 141.31,330.65 141.8,330.66 142.3,330.66 142.81,330.67 143.32,330.67 143.85,330.68 144.38,330.68 144.93,330.68 145.48,330.69 146.04,330.69 146.61,330.7 147.19,330.7 147.78,330.7 148.38,330.7" fill="none" stroke="#111111" stroke-width="3" stroke-linejoin="round" stroke-linecap="round"/>
<polyline points="148.38,330.7 148.38,357.85" fill="none" stroke="#6e6e6e" stroke-width="1.1"/>
<polyline points="148.38,357.85 148.38,357.72 148.38,357.28 148.39,356.5 148.41,355.41 148.43,354.07 148.45,352.54 148.48,350.91 148.52,349.25 148.56,347.6 148.6,346.03 148.65,344.55 148.71,343.19 148.78,341.95 148.85,340.83 148.93,339.82 149.01,338.92 149.1,338.12 149.2,337.41 149.3,336.78 149.41,336.22 149.53,335.72 149.65,335.28" fill="none" stroke="#333333" stroke-width="1.2" stroke-linejoin="round" stroke-linecap="round"/>
<polyline points="149.65,335.28 149.78,334.89 149.92,334.54 150.06,334.23" fill="none" stroke="#2a2a2a" stroke-width="1.65" stroke-linejoin="round" stroke-linecap="round"/>
<polyline points="150.06,334.23 150.22,333.95 150.37,333.69 150.54,333.47" fill="none" stroke="#222222" stroke-width="2.1" stroke-linejoin="round" stroke-linecap="round"/>
<polyline points="150.54,333.47 150.71,333.26 150.89,333.08 151.08,332.92 151.28,332.77" fill="none" stroke="#191919" stroke-width="2.55" stroke-linejoin="round" stroke-linecap="round"/>
<polyline points="151.28,332.77 151.48,332.63 151.69,332.5 151.91,332.39 152.14,332.29 152.37,332.19 152.61,332.11 152.86,332.03 153.12,331.96 153.38,331.89 153.65,331.83 153.94,331.77 154.22,331.72 154.52,331.67 154.82,331.62 155.14,331.58 155.46,331.54 155.79,331.5 156.12,331.47 156.47,331.44 156.82,331.41 157.18,331.38 157.55,331.35 157.93,331.33 158.31,331.31 158.71,331.28 159.11,331.26 159.52,331.24 159.94,331.23 160.37,331.21 160.81,331.19 161.25,331.18 161.71,331.16 162.17,331.15 162.64,331.14 163.12,331.12 163.61,331.11 164.11,331.1 164.61,331.09 165.13,331.08 165.65,331.07 166.18,331.06 166.72,331.05 167.27,331.05 167.83,331.04 168.4,331.03 168.98,331.02 169.56,331.02 170.16,331.01" fill="none" stroke="#111111" stroke-width="3" stroke-linejoin="round" stroke-linecap="round"/>
<polyline points="170.16,331.01 170.16,305.39" fill="none" stroke="#6e6e6e" stroke-width="1.1"/>
<polyline points="170.16,305.39 170.16,305.56 170.16,306.17 170.17,307.21 170.18,308.64 170.2,310.34 170.23,312.19 170.25,314.08 170.29,315.93 170.32,317.66 170.37,319.24 170.42,320.66 170.47,321.91 170.54,323.01 170.6,323.96 170.68,324.79 170.76,325.5 170.84,326.12 170.93,326.65 171.03,327.11 171.14,327.51" fill="none" stroke="#333333" stroke-width="1.2" stroke-linejoin="round" stroke-linecap="round"/>
<polyline points="171.14,327.51 171.25,327.86 171.36,328.16 171.49,328.42" fill="none" stroke="#2a2a2a" stroke-width="1.65" stroke-linejoin="round" stroke-linecap="round"/>
<polyline points="171.49,328.42 171.62,328.65 171.76,328.86 171.9,329.04" fill="none" stroke="#222222" stroke-width="2.1" stroke-linejoin="round" stroke-linecap="round"/>
<polyline points="171.9,329.04 172.05,329.19 172.21,329.33" fill="none" stroke="#191919" stroke-width="2.55" stroke-linejoin="round" stroke-linecap="round"/>
<polyline points="172.21,329.33 172.37,329.46 172.55,329.57 172.72,329.67 172.91,329.76 173.1,329.84 173.3,329.91 173.51,329.97 173.73,330.03 173.95,330.09 174.18,330.14 174.41,330.18 174.66,330.22 174.91,330.26 175.17,330.29 175.43,330.32 175.71,330.35 175.99,330.38 176.28,330.4 176.57,330.42 176.88,330.44 177.19,330.46 177.51,330.48 177.84,330.5 178.17,330.51 178.52,330.53 178.87,330.54 179.23,330.55 179.59,330.56 179.97,330.57 180.35,330.58 180.74,330.59 181.14,330.6 181.55,330.61 181.96,330.62 182.38,330.63 182.81,330.63 183.25,330.64 183.7,330.65 184.16,330.65 184.62,330.66 185.09,330.66 185.57,330.67 186.06,330.67 186.56,330.68 187.06,330.68 187.58,330.68 188.1,330.69 188.63,330.69 189.17,330.7 189.72,330.7 190.27,330.7 190.84,330.7" fill="none" stroke="#111111" stroke-width="3" stroke-linejoin="round" stroke-linecap="round"/>
<polyline points="190.84,330.7 190.84,355.87" fill="none" stroke="#6e6e6e" stroke-width="1.1"/>
<polyline points="190.84,355.87 190.84,355.74 190.84,355.31 190.85,354.55 190.87,353.48 190.89,352.18 190.92,350.7 190.95,349.14 190.98,347.55 191.03,346 191.08,344.53 191.13,343.15 191.19,341.89 191.26,340.75 191.34,339.73 191.42,338.81 191.51,338 191.6,337.28 191.71,336.64 191.82,336.08 191.93,335.58 192.06,335.14" fill="none" stroke="#333333" stroke-width="1.2" stroke-linejoin="round" stroke-linecap="round"/>
<polyline points="192.06,335.14 192.19,334.74 192.33,334.4 192.48,334.09" fill="none" stroke="#2a2a2a" stroke-width="1.65" stroke-linejoin="round" stroke-linecap="round"/>
<polyline points="192.48,334.09 192.63,333.81 192.79,333.56 192.96,333.34" fill="none" stroke="#222222" stroke-width="2.1" stroke-linejoin="round" stroke-linecap="round"/>
<polyline points="192.96,333.34 193.14,333.15 193.32,332.97 193.51,332.81" fill="none" stroke="#191919" stroke-width="2.55" stroke-linejoin="round" stroke-linecap="round"/>
<polyline points="193.51,332.81 193.72,332.66 193.92,332.53 194.14,332.41 194.36,332.31 194.6,332.21 194.84,332.12 195.08,332.04 195.34,331.96 195.61,331.89 195.88,331.83 196.16,331.77 196.45,331.72 196.75,331.67 197.06,331.62 197.37,331.58 197.69,331.54 198.03,331.5 198.37,331.47 198.72,331.44 199.07,331.41 199.44,331.38 199.82,331.35 200.2,331.33 200.59,331.31 201,331.28 201.41,331.26 201.83,331.25 202.26,331.23 202.69,331.21 203.14,331.2 203.6,331.18 204.06,331.17 204.53,331.15 205.02,331.14 205.51,331.13 206.01,331.12 206.52,331.11 207.04,331.1 207.57,331.09 208.11,331.08 208.65,331.07 209.21,331.06 209.78,331.06 210.35,331.05 210.94,331.04 211.53,331.03 212.14,331.03 212.75,331.02 213.37,331.02 214,331.01" fill="none" stroke="#111111" stroke-width="3" stroke-linejoin="round" stroke-linecap="round"/>
<polyline points="214,331.01 214,325.21 214,335.28 214,330.4" fill="none" stroke="#6e6e6e" stroke-width="1.1"/>
<polyline points="214,330.4 219.34,330.4" fill="none" stroke="#111" stroke-width="3.0" stroke-linejoin="round"/>
<polyline points="219.34,330.4 219.34,194.67" fill="none" stroke="#6e6e6e" stroke-width="1.1"/>
<polygon points="219.41,202.72 219.78,204.26 220.15,205.23 220.52,205.84 220.88,206.23 221.25,206.48 221.62,206.63 221.99,206.73 222.36,206.79 222.72,206.83 223.09,206.86 223.46,206.87 223.83,206.88 224.2,206.89 224.56,206.89 224.56,209.89 224.2,209.89 223.83,209.88 223.46,209.87 223.09,209.86 222.72,209.83 222.36,209.79 221.99,209.73 221.62,209.63 221.25,209.48 220.88,209.23 220.52,208.84 220.15,208.23 219.78,207.26 219.41,205.72" fill="#111"/>
<polyline points="224.56,202.3 224.56,331.01" fill="none" stroke="#6e6e6e" stroke-width="1.1"/>
<polyline points="224.56,331.01 230.34,331.01" fill="none" stroke="#111" stroke-width="3.0" stroke-linejoin="round"/>
<polyline points="230.34,331.01 230.34,197.72" fill="none" stroke="#6e6e6e" stroke-width="1.1"/>
<polygon points="230.41,202.72 230.77,204.23 231.13,205.19 231.49,205.81 231.85,206.2 232.21,206.46 232.57,206.62 232.93,206.72 233.29,206.78 233.65,206.83 234.01,206.85 234.37,206.87 234.73,206.88 235.09,206.89 235.45,206.89 235.45,209.89 235.09,209.89 234.73,209.88 234.37,209.87 234.01,209.85 233.65,209.83 233.29,209.78 232.93,209.72 232.57,209.62 232.21,209.46 231.85,209.2 231.49,208.81 231.13,208.19 230.77,207.23 230.41,205.72" fill="#111"/>
<polyline points="235.45,197.72 235.45,330.4" fill="none" stroke="#6e6e6e" stroke-width="1.1"/>
<polyline points="235.45,330.4 241.15,330.4" fill="none" stroke="#111" stroke-width="3.0" stroke-linejoin="round"/>
<polyline points="241.15,330.4 241.15,199.25" fill="none" stroke="#6e6e6e" stroke-width="1.1"/>
<polygon points="241.23,202.72 241.6,204.27 241.97,205.25 242.35,205.86 242.72,206.25 243.09,206.49 243.47,206.64 243.84,206.74 244.21,206.8 244.59,206.84 244.96,206.86 245.33,206.87 245.7,206.88 246.08,206.89 246.45,206.89 246.45,209.89 246.08,209.89 245.7,209.88 245.33,209.87 244.96,209.86 244.59,209.84 244.21,209.8 243.84,209.74 243.47,209.64 243.09,209.49 242.72,209.25 242.35,208.86 241.97,208.25 241.6,207.27 241.23,205.72" fill="#111"/>
<polyline points="246.45,202.3 246.45,330.4" fill="none" stroke="#6e6e6e" stroke-width="1.1"/>
<polyline points="246.45,330.4 252.01,330.4" fill="none" stroke="#111" stroke-width="3.0" stroke-linejoin="round"/>
<polyline points="235.45,330.4 235.45,336.8" fill="none" stroke="#444" stroke-width="0.85"/>
</g>
<g>
<line x1="321.2" y1="195.1" x2="321.2" y2="359.6" stroke="#333" stroke-width="1"/>
<line x1="320.7" y1="359.1" x2="546.8" y2="359.1" stroke="#444" stroke-width="1"/>
<line x1="319.2" y1="358.75" x2="321.2" y2="358.75" stroke="#333" stroke-width="0.8"/>
<line x1="318" y1="341.8" x2="321.2" y2="341.8" stroke="#333" stroke-width="0.8"/>
<text transform="translate(316.2,343.54) scale(1,0.92)" text-anchor="end" font-size="7.4" font-family="Liberation Sans, Arial, sans-serif" stroke="#1a1a1a" stroke-width="0.12" fill="#1a1a1a">0.0</text>
<line x1="319.2" y1="324.85" x2="321.2" y2="324.85" stroke="#333" stroke-width="0.8"/>
<line x1="318" y1="307.9" x2="321.2" y2="307.9" stroke="#333" stroke-width="0.8"/>
<text transform="translate(316.2,309.64) scale(1,0.92)" text-anchor="end" font-size="7.4" font-family="Liberation Sans, Arial, sans-serif" stroke="#1a1a1a" stroke-width="0.12" fill="#1a1a1a">0.2</text>
<line x1="319.2" y1="290.95" x2="321.2" y2="290.95" stroke="#333" stroke-width="0.8"/>
<line x1="318" y1="274" x2="321.2" y2="274" stroke="#333" stroke-width="0.8"/>
<text transform="translate(316.2,275.74) scale(1,0.92)" text-anchor="end" font-size="7.4" font-family="Liberation Sans, Arial, sans-serif" stroke="#1a1a1a" stroke-width="0.12" fill="#1a1a1a">0.4</text>
<line x1="319.2" y1="257.05" x2="321.2" y2="257.05" stroke="#333" stroke-width="0.8"/>
<line x1="318" y1="240.1" x2="321.2" y2="240.1" stroke="#333" stroke-width="0.8"/>
<text transform="translate(316.2,241.84) scale(1,0.92)" text-anchor="end" font-size="7.4" font-family="Liberation Sans, Arial, sans-serif" stroke="#1a1a1a" stroke-width="0.12" fill="#1a1a1a">0.6</text>
<line x1="319.2" y1="223.15" x2="321.2" y2="223.15" stroke="#333" stroke-width="0.8"/>
<line x1="318" y1="206.2" x2="321.2" y2="206.2" stroke="#333" stroke-width="0.8"/>
<text transform="translate(316.2,207.94) scale(1,0.92)" text-anchor="end" font-size="7.4" font-family="Liberation Sans, Arial, sans-serif" stroke="#1a1a1a" stroke-width="0.12" fill="#1a1a1a">0.8</text>
<line x1="323.2" y1="359.1" x2="323.2" y2="361.9" stroke="#333" stroke-width="0.8"/>
<text transform="translate(323.2,369.24) scale(1,0.92)" text-anchor="middle" font-size="7.4" font-family="Liberation Sans, Arial, sans-serif" stroke="#1a1a1a" stroke-width="0.12" fill="#1a1a1a">0</text>
<line x1="341.74" y1="359.1" x2="341.74" y2="360.7" stroke="#333" stroke-width="0.8"/>
<line x1="360.28" y1="359.1" x2="360.28" y2="361.9" stroke="#333" stroke-width="0.8"/>
<text transform="translate(360.28,369.24) scale(1,0.92)" text-anchor="middle" font-size="7.4" font-family="Liberation Sans, Arial, sans-serif" stroke="#1a1a1a" stroke-width="0.12" fill="#1a1a1a">100</text>
<line x1="378.82" y1="359.1" x2="378.82" y2="360.7" stroke="#333" stroke-width="0.8"/>
<line x1="397.36" y1="359.1" x2="397.36" y2="361.9" stroke="#333" stroke-width="0.8"/>
<text transform="translate(397.36,369.24) scale(1,0.92)" text-anchor="middle" font-size="7.4" font-family="Liberation Sans, Arial, sans-serif" stroke="#1a1a1a" stroke-width="0.12" fill="#1a1a1a">200</text>
<line x1="415.9" y1="359.1" x2="415.9" y2="360.7" stroke="#333" stroke-width="0.8"/>
<line x1="434.44" y1="359.1" x2="434.44" y2="361.9" stroke="#333" stroke-width="0.8"/>
<text transform="translate(434.44,369.24) scale(1,0.92)" text-anchor="middle" font-size="7.4" font-family="Liberation Sans, Arial, sans-serif" stroke="#1a1a1a" stroke-width="0.12" fill="#1a1a1a">300</text>
<line x1="452.98" y1="359.1" x2="452.98" y2="360.7" stroke="#333" stroke-width="0.8"/>
<line x1="471.52" y1="359.1" x2="471.52" y2="361.9" stroke="#333" stroke-width="0.8"/>
<text transform="translate(471.52,369.24) scale(1,0.92)" text-anchor="middle" font-size="7.4" font-family="Liberation Sans, Arial, sans-serif" stroke="#1a1a1a" stroke-width="0.12" fill="#1a1a1a">400</text>
<line x1="490.06" y1="359.1" x2="490.06" y2="360.7" stroke="#333" stroke-width="0.8"/>
<line x1="508.6" y1="359.1" x2="508.6" y2="361.9" stroke="#333" stroke-width="0.8"/>
<text transform="translate(508.6,369.24) scale(1,0.92)" text-anchor="middle" font-size="7.4" font-family="Liberation Sans, Arial, sans-serif" stroke="#1a1a1a" stroke-width="0.12" fill="#1a1a1a">500</text>
<line x1="527.14" y1="359.1" x2="527.14" y2="360.7" stroke="#333" stroke-width="0.8"/>
<line x1="545.68" y1="359.1" x2="545.68" y2="361.9" stroke="#333" stroke-width="0.8"/>
<text transform="translate(545.68,369.24) scale(1,0.92)" text-anchor="middle" font-size="7.4" font-family="Liberation Sans, Arial, sans-serif" stroke="#1a1a1a" stroke-width="0.12" fill="#1a1a1a">600</text>
<text x="433" y="382.9" text-anchor="middle" font-size="8.9" font-family="Liberation Sans, Arial, sans-serif" stroke="#222" stroke-width="0.12" fill="#111">time/s</text>
<text transform="translate(302.8,271.5) rotate(-90)" text-anchor="middle" font-size="8.9" font-family="Liberation Sans, Arial, sans-serif" stroke="#222" stroke-width="0.12" fill="#111">Potential/ kV</text>
<rect x="417.1" y="200.9" width="38.4" height="12.5" fill="#999"/>
<rect x="416.1" y="199.9" width="38.4" height="12.5" fill="#fff" stroke="#333" stroke-width="0.8"/>
<text x="435.3" y="209.05" text-anchor="middle" font-size="8.6" font-family="Liberation Sans, Arial, sans-serif" stroke="#222" stroke-width="0.12" fill="#111">40% RH</text>
<polyline points="323.2,341.8 334.69,341.8" fill="none" stroke="#909090" stroke-width="4.8" stroke-linejoin="round"/>
<polyline points="323.2,341.8 334.69,341.8" fill="none" stroke="#222" stroke-width="2.4" stroke-linejoin="round"/>
<polyline points="334.69,341.8 334.69,199.08" fill="none" stroke="#6e6e6e" stroke-width="1.1"/>
<polygon points="334.77,201.7 335.16,202.42 335.55,202.68 335.94,202.77 336.33,202.8 336.72,202.81 337.11,202.81 337.49,202.81 337.88,202.81 338.27,202.81 338.66,202.81 339.05,202.81 339.44,202.81 339.83,202.81 340.22,202.81 340.22,207.21 339.83,207.21 339.44,207.21 339.05,207.21 338.66,207.21 338.27,207.21 337.88,207.21 337.49,207.21 337.11,207.21 336.72,207.21 336.33,207.2 335.94,207.17 335.55,207.08 335.16,206.82 334.77,206.1" fill="#1a1a1a"/>
<polyline points="340.22,204 340.22,341.8" fill="none" stroke="#6e6e6e" stroke-width="1.1"/>
<polyline points="340.22,341.8 345.6,341.8" fill="none" stroke="#909090" stroke-width="4.8" stroke-linejoin="round"/>
<polyline points="340.22,341.8 345.6,341.8" fill="none" stroke="#222" stroke-width="2.4" stroke-linejoin="round"/>
<polyline points="345.6,341.8 345.6,197.05" fill="none" stroke="#6e6e6e" stroke-width="1.1"/>
<polygon points="345.67,202.55 346.08,203.29 346.49,203.54 346.89,203.62 347.3,203.65 347.71,203.66 348.12,203.66 348.53,203.66 348.93,203.66 349.34,203.66 349.75,203.66 350.16,203.66 350.57,203.66 350.97,203.66 351.38,203.66 351.38,208.06 350.97,208.06 350.57,208.06 350.16,208.06 349.75,208.06 349.34,208.06 348.93,208.06 348.53,208.06 348.12,208.06 347.71,208.06 347.3,208.05 346.89,208.02 346.49,207.94 346.08,207.69 345.67,206.95" fill="#1a1a1a"/>
<polyline points="351.38,201.12 351.38,341.8" fill="none" stroke="#6e6e6e" stroke-width="1.1"/>
<polyline points="351.38,341.8 357.39,341.8" fill="none" stroke="#909090" stroke-width="4.8" stroke-linejoin="round"/>
<polyline points="351.38,341.8 357.39,341.8" fill="none" stroke="#222" stroke-width="2.4" stroke-linejoin="round"/>
<polyline points="357.39,341.8 357.39,198.57" fill="none" stroke="#6e6e6e" stroke-width="1.1"/>
<polygon points="357.46,202.55 357.83,203.25 358.2,203.51 358.57,203.6 358.93,203.64 359.3,203.65 359.67,203.66 360.04,203.66 360.41,203.66 360.78,203.66 361.14,203.66 361.51,203.66 361.88,203.66 362.25,203.66 362.62,203.66 362.62,208.06 362.25,208.06 361.88,208.06 361.51,208.06 361.14,208.06 360.78,208.06 360.41,208.06 360.04,208.06 359.67,208.06 359.3,208.05 358.93,208.04 358.57,208 358.2,207.91 357.83,207.65 357.46,206.95" fill="#1a1a1a"/>
<polyline points="362.62,201.12 362.62,341.8" fill="none" stroke="#6e6e6e" stroke-width="1.1"/>
<polyline points="362.62,341.8 507.3,341.8" fill="none" stroke="#909090" stroke-width="4.8" stroke-linejoin="round"/>
<polyline points="362.62,341.8 507.3,341.8" fill="none" stroke="#222" stroke-width="2.4" stroke-linejoin="round"/>
<polyline points="373.7,341.8 373.7,326.88" fill="none" stroke="#444" stroke-width="0.85"/>
<polyline points="396.21,341.8 396.21,354.68" fill="none" stroke="#444" stroke-width="0.85"/>
<polyline points="418.2,341.8 418.2,330.27" fill="none" stroke="#444" stroke-width="0.85"/>
<polyline points="440.11,341.8 440.11,354.68" fill="none" stroke="#444" stroke-width="0.85"/>
<polyline points="462.51,341.8 462.51,329.94" fill="none" stroke="#444" stroke-width="0.85"/>
<polyline points="484.61,341.8 484.61,355.36" fill="none" stroke="#444" stroke-width="0.85"/>
<polyline points="507.3,341.8 507.3,357.22 507.3,340.44" fill="none" stroke="#6e6e6e" stroke-width="1.1"/>
<polyline points="507.3,340.44 512.9,340.44" fill="none" stroke="#909090" stroke-width="4.8" stroke-linejoin="round"/>
<polyline points="507.3,340.44 512.9,340.44" fill="none" stroke="#222" stroke-width="2.4" stroke-linejoin="round"/>
<polyline points="512.9,340.44 512.9,194.5" fill="none" stroke="#6e6e6e" stroke-width="1.1"/>
<polygon points="512.98,201.64 513.36,202.18 513.74,202.37 514.12,202.44 514.5,202.46 514.88,202.47 515.26,202.47 515.65,202.47 516.03,202.47 516.41,202.47 516.79,202.47 517.17,202.47 517.55,202.47 517.93,202.47 518.31,202.47 518.31,206.87 517.93,206.87 517.55,206.87 517.17,206.87 516.79,206.87 516.41,206.87 516.03,206.87 515.65,206.87 515.26,206.87 514.88,206.87 514.5,206.86 514.12,206.84 513.74,206.77 513.36,206.58 512.98,206.04" fill="#1a1a1a"/>
<polyline points="518.31,201.12 518.31,341.8" fill="none" stroke="#6e6e6e" stroke-width="1.1"/>
<polyline points="518.31,341.8 523.8,341.8" fill="none" stroke="#909090" stroke-width="4.8" stroke-linejoin="round"/>
<polyline points="518.31,341.8 523.8,341.8" fill="none" stroke="#222" stroke-width="2.4" stroke-linejoin="round"/>
<polyline points="523.8,341.8 523.8,196.54" fill="none" stroke="#6e6e6e" stroke-width="1.1"/>
<polygon points="523.88,202.46 524.26,202.91 524.65,203.07 525.04,203.12 525.42,203.14 525.81,203.15 526.2,203.15 526.58,203.15 526.97,203.15 527.36,203.15 527.74,203.15 528.13,203.15 528.52,203.15 528.9,203.15 529.29,203.15 529.29,207.55 528.9,207.55 528.52,207.55 528.13,207.55 527.74,207.55 527.36,207.55 526.97,207.55 526.58,207.55 526.2,207.55 525.81,207.55 525.42,207.54 525.04,207.52 524.65,207.47 524.26,207.31 523.88,206.86" fill="#1a1a1a"/>
<polyline points="529.29,201.12 529.29,341.8" fill="none" stroke="#6e6e6e" stroke-width="1.1"/>
<polyline points="529.29,341.8 535,341.8" fill="none" stroke="#909090" stroke-width="4.8" stroke-linejoin="round"/>
<polyline points="529.29,341.8 535,341.8" fill="none" stroke="#222" stroke-width="2.4" stroke-linejoin="round"/>
<polyline points="535,341.8 535,197.22" fill="none" stroke="#6e6e6e" stroke-width="1.1"/>
<polygon points="535.08,202.46 535.44,202.89 535.8,203.05 536.16,203.11 536.52,203.14 536.88,203.15 537.24,203.15 537.6,203.15 537.96,203.15 538.32,203.15 538.68,203.15 539.04,203.15 539.4,203.15 539.76,203.15 540.12,203.15 540.12,207.55 539.76,207.55 539.4,207.55 539.04,207.55 538.68,207.55 538.32,207.55 537.96,207.55 537.6,207.55 537.24,207.55 536.88,207.55 536.52,207.54 536.16,207.51 535.8,207.45 535.44,207.29 535.08,206.86" fill="#1a1a1a"/>
<polyline points="540.12,201.12 540.12,341.8" fill="none" stroke="#6e6e6e" stroke-width="1.1"/>
<polyline points="540.12,341.8 546.42,341.8" fill="none" stroke="#909090" stroke-width="4.8" stroke-linejoin="round"/>
<polyline points="540.12,341.8 546.42,341.8" fill="none" stroke="#222" stroke-width="2.4" stroke-linejoin="round"/>
</g>
<g>
<line x1="28" y1="390.1" x2="28" y2="552.9" stroke="#333" stroke-width="1"/>
<line x1="27.5" y1="552.4" x2="254.5" y2="552.4" stroke="#444" stroke-width="1"/>
<line x1="26" y1="550.44" x2="28" y2="550.44" stroke="#333" stroke-width="0.8"/>
<line x1="24.8" y1="534.4" x2="28" y2="534.4" stroke="#333" stroke-width="0.8"/>
<text transform="translate(22.5,536.3) scale(1,0.98)" text-anchor="end" font-size="7.4" font-family="Liberation Sans, Arial, sans-serif" stroke="#1a1a1a" stroke-width="0.12" fill="#1a1a1a">0.0</text>
<line x1="26" y1="518.36" x2="28" y2="518.36" stroke="#333" stroke-width="0.8"/>
<line x1="24.8" y1="502.32" x2="28" y2="502.32" stroke="#333" stroke-width="0.8"/>
<text transform="translate(22.5,504.22) scale(1,0.98)" text-anchor="end" font-size="7.4" font-family="Liberation Sans, Arial, sans-serif" stroke="#1a1a1a" stroke-width="0.12" fill="#1a1a1a">0.2</text>
<line x1="26" y1="486.28" x2="28" y2="486.28" stroke="#333" stroke-width="0.8"/>
<line x1="24.8" y1="470.24" x2="28" y2="470.24" stroke="#333" stroke-width="0.8"/>
<text transform="translate(22.5,472.14) scale(1,0.98)" text-anchor="end" font-size="7.4" font-family="Liberation Sans, Arial, sans-serif" stroke="#1a1a1a" stroke-width="0.12" fill="#1a1a1a">0.4</text>
<line x1="26" y1="454.2" x2="28" y2="454.2" stroke="#333" stroke-width="0.8"/>
<line x1="24.8" y1="438.16" x2="28" y2="438.16" stroke="#333" stroke-width="0.8"/>
<text transform="translate(22.5,440.06) scale(1,0.98)" text-anchor="end" font-size="7.4" font-family="Liberation Sans, Arial, sans-serif" stroke="#1a1a1a" stroke-width="0.12" fill="#1a1a1a">0.6</text>
<line x1="26" y1="422.12" x2="28" y2="422.12" stroke="#333" stroke-width="0.8"/>
<line x1="24.8" y1="406.08" x2="28" y2="406.08" stroke="#333" stroke-width="0.8"/>
<text transform="translate(22.5,407.98) scale(1,0.98)" text-anchor="end" font-size="7.4" font-family="Liberation Sans, Arial, sans-serif" stroke="#1a1a1a" stroke-width="0.12" fill="#1a1a1a">0.8</text>
<line x1="26" y1="390.04" x2="28" y2="390.04" stroke="#333" stroke-width="0.8"/>
<line x1="29.8" y1="552.4" x2="29.8" y2="555.2" stroke="#333" stroke-width="0.8"/>
<text transform="translate(29.8,562.7) scale(1,0.98)" text-anchor="middle" font-size="7.4" font-family="Liberation Sans, Arial, sans-serif" stroke="#1a1a1a" stroke-width="0.12" fill="#1a1a1a">0</text>
<line x1="48.36" y1="552.4" x2="48.36" y2="554" stroke="#333" stroke-width="0.8"/>
<line x1="66.92" y1="552.4" x2="66.92" y2="555.2" stroke="#333" stroke-width="0.8"/>
<text transform="translate(66.92,562.7) scale(1,0.98)" text-anchor="middle" font-size="7.4" font-family="Liberation Sans, Arial, sans-serif" stroke="#1a1a1a" stroke-width="0.12" fill="#1a1a1a">100</text>
<line x1="85.48" y1="552.4" x2="85.48" y2="554" stroke="#333" stroke-width="0.8"/>
<line x1="104.04" y1="552.4" x2="104.04" y2="555.2" stroke="#333" stroke-width="0.8"/>
<text transform="translate(104.04,562.7) scale(1,0.98)" text-anchor="middle" font-size="7.4" font-family="Liberation Sans, Arial, sans-serif" stroke="#1a1a1a" stroke-width="0.12" fill="#1a1a1a">200</text>
<line x1="122.6" y1="552.4" x2="122.6" y2="554" stroke="#333" stroke-width="0.8"/>
<line x1="141.16" y1="552.4" x2="141.16" y2="555.2" stroke="#333" stroke-width="0.8"/>
<text transform="translate(141.16,562.7) scale(1,0.98)" text-anchor="middle" font-size="7.4" font-family="Liberation Sans, Arial, sans-serif" stroke="#1a1a1a" stroke-width="0.12" fill="#1a1a1a">300</text>
<line x1="159.72" y1="552.4" x2="159.72" y2="554" stroke="#333" stroke-width="0.8"/>
<line x1="178.28" y1="552.4" x2="178.28" y2="555.2" stroke="#333" stroke-width="0.8"/>
<text transform="translate(178.28,562.7) scale(1,0.98)" text-anchor="middle" font-size="7.4" font-family="Liberation Sans, Arial, sans-serif" stroke="#1a1a1a" stroke-width="0.12" fill="#1a1a1a">400</text>
<line x1="196.84" y1="552.4" x2="196.84" y2="554" stroke="#333" stroke-width="0.8"/>
<line x1="215.4" y1="552.4" x2="215.4" y2="555.2" stroke="#333" stroke-width="0.8"/>
<text transform="translate(215.4,562.7) scale(1,0.98)" text-anchor="middle" font-size="7.4" font-family="Liberation Sans, Arial, sans-serif" stroke="#1a1a1a" stroke-width="0.12" fill="#1a1a1a">500</text>
<line x1="233.96" y1="552.4" x2="233.96" y2="554" stroke="#333" stroke-width="0.8"/>
<line x1="252.52" y1="552.4" x2="252.52" y2="555.2" stroke="#333" stroke-width="0.8"/>
<text transform="translate(252.52,562.7) scale(1,0.98)" text-anchor="middle" font-size="7.4" font-family="Liberation Sans, Arial, sans-serif" stroke="#1a1a1a" stroke-width="0.12" fill="#1a1a1a">600</text>
<text x="140.25" y="576" text-anchor="middle" font-size="8.9" font-family="Liberation Sans, Arial, sans-serif" stroke="#222" stroke-width="0.12" fill="#111">time/s</text>
<text transform="translate(8.4,465.65) rotate(-90)" text-anchor="middle" font-size="8.9" font-family="Liberation Sans, Arial, sans-serif" stroke="#222" stroke-width="0.12" fill="#111">Potential/ kV</text>
<rect x="123.8" y="395.9" width="38.7" height="12.5" fill="#999"/>
<rect x="122.8" y="394.9" width="38.7" height="12.5" fill="#fff" stroke="#333" stroke-width="0.8"/>
<text x="142.15" y="404.05" text-anchor="middle" font-size="8.6" font-family="Liberation Sans, Arial, sans-serif" stroke="#222" stroke-width="0.12" fill="#111">50% RH</text>
<polyline points="29.8,535.2 41.53,535.2" fill="none" stroke="#909090" stroke-width="4.4" stroke-linejoin="round"/>
<polyline points="29.8,535.2 41.53,535.2" fill="none" stroke="#222" stroke-width="2.3" stroke-linejoin="round"/>
<polyline points="41.53,535.2 41.53,397.58" fill="none" stroke="#6e6e6e" stroke-width="1.1"/>
<polygon points="41.6,406.2 41.96,406.2 42.32,406.2 42.68,406.2 43.04,406.2 43.39,406.2 43.75,406.2 44.11,406.2 44.47,406.2 44.83,406.2 45.18,406.2 45.54,406.2 45.9,406.2 46.26,406.2 46.62,406.2 46.62,409.8 46.26,409.8 45.9,409.8 45.54,409.8 45.18,409.8 44.83,409.8 44.47,409.8 44.11,409.8 43.75,409.8 43.39,409.8 43.04,409.8 42.68,409.8 42.32,409.8 41.96,409.8 41.6,409.8" fill="#111"/>
<polyline points="46.62,398.06 46.62,535.2" fill="none" stroke="#6e6e6e" stroke-width="1.1"/>
<polyline points="46.62,535.2 52.44,535.2" fill="none" stroke="#909090" stroke-width="4.4" stroke-linejoin="round"/>
<polyline points="46.62,535.2 52.44,535.2" fill="none" stroke="#222" stroke-width="2.3" stroke-linejoin="round"/>
<polyline points="52.44,535.2 52.44,395.17" fill="none" stroke="#6e6e6e" stroke-width="1.1"/>
<polygon points="52.52,402.68 52.89,402.68 53.27,402.68 53.64,402.68 54.01,402.68 54.39,402.68 54.76,402.68 55.13,402.68 55.51,402.68 55.88,402.68 56.26,402.68 56.63,402.68 57,402.68 57.38,402.68 57.75,402.68 57.75,406.28 57.38,406.28 57,406.28 56.63,406.28 56.26,406.28 55.88,406.28 55.51,406.28 55.13,406.28 54.76,406.28 54.39,406.28 54.01,406.28 53.64,406.28 53.27,406.28 52.89,406.28 52.52,406.28" fill="#111"/>
<polyline points="57.75,402.39 57.75,535.2" fill="none" stroke="#6e6e6e" stroke-width="1.1"/>
<polyline points="57.75,535.2 63.43,535.2" fill="none" stroke="#909090" stroke-width="4.4" stroke-linejoin="round"/>
<polyline points="57.75,535.2 63.43,535.2" fill="none" stroke="#222" stroke-width="2.3" stroke-linejoin="round"/>
<polyline points="63.43,535.2 63.43,398.06" fill="none" stroke="#6e6e6e" stroke-width="1.1"/>
<polygon points="63.5,405.24 63.9,405.24 64.3,405.24 64.69,405.24 65.09,405.24 65.48,405.24 65.88,405.24 66.27,405.24 66.67,405.24 67.06,405.24 67.46,405.24 67.85,405.24 68.25,405.24 68.64,405.24 69.04,405.24 69.04,408.84 68.64,408.84 68.25,408.84 67.85,408.84 67.46,408.84 67.06,408.84 66.67,408.84 66.27,408.84 65.88,408.84 65.48,408.84 65.09,408.84 64.69,408.84 64.3,408.84 63.9,408.84 63.5,408.84" fill="#111"/>
<polyline points="69.04,402.87 69.04,535.2" fill="none" stroke="#6e6e6e" stroke-width="1.1"/>
<polyline points="69.04,535.2 72.12,535.2" fill="none" stroke="#909090" stroke-width="4.4" stroke-linejoin="round"/>
<polyline points="69.04,535.2 72.12,535.2" fill="none" stroke="#222" stroke-width="2.3" stroke-linejoin="round"/>
<polyline points="72.12,535.2 75.09,536.32 213.92,536.32" fill="none" stroke="#909090" stroke-width="4.4" stroke-linejoin="round"/>
<polyline points="72.12,535.2 75.09,536.32 213.92,536.32" fill="none" stroke="#222" stroke-width="2.3" stroke-linejoin="round"/>
<polyline points="80.28,536.32 80.28,528.95" fill="none" stroke="#444" stroke-width="0.85"/>
<polyline points="101.81,536.32 101.81,542.42" fill="none" stroke="#444" stroke-width="0.85"/>
<polyline points="124.6,536.32 124.6,527.02" fill="none" stroke="#444" stroke-width="0.85"/>
<polyline points="146.8,536.32 146.8,543.06" fill="none" stroke="#444" stroke-width="0.85"/>
<polyline points="169.3,536.32 169.3,528.63" fill="none" stroke="#444" stroke-width="0.85"/>
<polyline points="191.38,536.32 191.38,542.42" fill="none" stroke="#444" stroke-width="0.85"/>
<polyline points="213.92,536.32 213.92,533.92" fill="none" stroke="#444" stroke-width="0.85"/>
<polyline points="213.92,533.92 219.67,533.92" fill="none" stroke="#909090" stroke-width="4.4" stroke-linejoin="round"/>
<polyline points="213.92,533.92 219.67,533.92" fill="none" stroke="#222" stroke-width="2.3" stroke-linejoin="round"/>
<polyline points="219.67,533.92 219.67,396.14" fill="none" stroke="#6e6e6e" stroke-width="1.1"/>
<polygon points="219.74,405.56 220.11,405.56 220.47,405.56 220.84,405.56 221.21,405.56 221.57,405.56 221.94,405.56 222.3,405.56 222.67,405.56 223.04,405.56 223.4,405.56 223.77,405.56 224.13,405.56 224.5,405.56 224.87,405.56 224.87,409.16 224.5,409.16 224.13,409.16 223.77,409.16 223.4,409.16 223.04,409.16 222.67,409.16 222.3,409.16 221.94,409.16 221.57,409.16 221.21,409.16 220.84,409.16 220.47,409.16 220.11,409.16 219.74,409.16" fill="#111"/>
<polyline points="224.87,395.49 224.87,535.2" fill="none" stroke="#6e6e6e" stroke-width="1.1"/>
<polyline points="224.87,535.2 230.66,535.2" fill="none" stroke="#909090" stroke-width="4.4" stroke-linejoin="round"/>
<polyline points="224.87,535.2 230.66,535.2" fill="none" stroke="#222" stroke-width="2.3" stroke-linejoin="round"/>
<polyline points="230.66,535.2 230.66,398.06" fill="none" stroke="#6e6e6e" stroke-width="1.1"/>
<polygon points="230.73,402.84 231.11,402.84 231.49,402.84 231.88,402.84 232.26,402.84 232.64,402.84 233.02,402.84 233.4,402.84 233.79,402.84 234.17,402.84 234.55,402.84 234.93,402.84 235.31,402.84 235.69,402.84 236.08,402.84 236.08,406.44 235.69,406.44 235.31,406.44 234.93,406.44 234.55,406.44 234.17,406.44 233.79,406.44 233.4,406.44 233.02,406.44 232.64,406.44 232.26,406.44 231.88,406.44 231.49,406.44 231.11,406.44 230.73,406.44" fill="#111"/>
<polyline points="236.08,399.66 236.08,535.2" fill="none" stroke="#6e6e6e" stroke-width="1.1"/>
<polyline points="236.08,535.2 241.87,535.2" fill="none" stroke="#909090" stroke-width="4.4" stroke-linejoin="round"/>
<polyline points="236.08,535.2 241.87,535.2" fill="none" stroke="#222" stroke-width="2.3" stroke-linejoin="round"/>
<polyline points="241.87,535.2 241.87,397.26" fill="none" stroke="#6e6e6e" stroke-width="1.1"/>
<polygon points="241.94,404.92 242.34,404.92 242.75,404.92 243.15,404.92 243.55,404.92 243.96,404.92 244.36,404.92 244.76,404.92 245.16,404.92 245.57,404.92 245.97,404.92 246.37,404.92 246.78,404.92 247.18,404.92 247.58,404.92 247.58,408.52 247.18,408.52 246.78,408.52 246.37,408.52 245.97,408.52 245.57,408.52 245.16,408.52 244.76,408.52 244.36,408.52 243.96,408.52 243.55,408.52 243.15,408.52 242.75,408.52 242.34,408.52 241.94,408.52" fill="#111"/>
<polyline points="247.58,398.86 247.58,535.2" fill="none" stroke="#6e6e6e" stroke-width="1.1"/>
<polyline points="247.58,535.2 253.26,535.2" fill="none" stroke="#909090" stroke-width="4.4" stroke-linejoin="round"/>
<polyline points="247.58,535.2 253.26,535.2" fill="none" stroke="#222" stroke-width="2.3" stroke-linejoin="round"/>
</g>
<g>
<line x1="321.6" y1="389.2" x2="321.6" y2="553.7" stroke="#333" stroke-width="1"/>
<line x1="321.1" y1="553.2" x2="546.2" y2="553.2" stroke="#444" stroke-width="1"/>
<line x1="318.4" y1="540" x2="321.6" y2="540" stroke="#333" stroke-width="0.8"/>
<text transform="translate(316.2,541.68) scale(1,0.9)" text-anchor="end" font-size="7.4" font-family="Liberation Sans, Arial, sans-serif" stroke="#1a1a1a" stroke-width="0.12" fill="#1a1a1a">0.0</text>
<line x1="319.6" y1="523" x2="321.6" y2="523" stroke="#333" stroke-width="0.8"/>
<line x1="318.4" y1="506" x2="321.6" y2="506" stroke="#333" stroke-width="0.8"/>
<text transform="translate(316.2,507.68) scale(1,0.9)" text-anchor="end" font-size="7.4" font-family="Liberation Sans, Arial, sans-serif" stroke="#1a1a1a" stroke-width="0.12" fill="#1a1a1a">0.2</text>
<line x1="319.6" y1="489" x2="321.6" y2="489" stroke="#333" stroke-width="0.8"/>
<line x1="318.4" y1="472" x2="321.6" y2="472" stroke="#333" stroke-width="0.8"/>
<text transform="translate(316.2,473.68) scale(1,0.9)" text-anchor="end" font-size="7.4" font-family="Liberation Sans, Arial, sans-serif" stroke="#1a1a1a" stroke-width="0.12" fill="#1a1a1a">0.4</text>
<line x1="319.6" y1="455" x2="321.6" y2="455" stroke="#333" stroke-width="0.8"/>
<line x1="318.4" y1="438" x2="321.6" y2="438" stroke="#333" stroke-width="0.8"/>
<text transform="translate(316.2,439.68) scale(1,0.9)" text-anchor="end" font-size="7.4" font-family="Liberation Sans, Arial, sans-serif" stroke="#1a1a1a" stroke-width="0.12" fill="#1a1a1a">0.6</text>
<line x1="319.6" y1="421" x2="321.6" y2="421" stroke="#333" stroke-width="0.8"/>
<line x1="318.4" y1="404" x2="321.6" y2="404" stroke="#333" stroke-width="0.8"/>
<text transform="translate(316.2,405.68) scale(1,0.9)" text-anchor="end" font-size="7.4" font-family="Liberation Sans, Arial, sans-serif" stroke="#1a1a1a" stroke-width="0.12" fill="#1a1a1a">0.8</text>
<line x1="323.5" y1="553.2" x2="323.5" y2="556" stroke="#333" stroke-width="0.8"/>
<text transform="translate(323.5,563.28) scale(1,0.9)" text-anchor="middle" font-size="7.4" font-family="Liberation Sans, Arial, sans-serif" stroke="#1a1a1a" stroke-width="0.12" fill="#1a1a1a">0</text>
<line x1="341.88" y1="553.2" x2="341.88" y2="554.8" stroke="#333" stroke-width="0.8"/>
<line x1="360.27" y1="553.2" x2="360.27" y2="556" stroke="#333" stroke-width="0.8"/>
<text transform="translate(360.27,563.28) scale(1,0.9)" text-anchor="middle" font-size="7.4" font-family="Liberation Sans, Arial, sans-serif" stroke="#1a1a1a" stroke-width="0.12" fill="#1a1a1a">100</text>
<line x1="378.65" y1="553.2" x2="378.65" y2="554.8" stroke="#333" stroke-width="0.8"/>
<line x1="397.04" y1="553.2" x2="397.04" y2="556" stroke="#333" stroke-width="0.8"/>
<text transform="translate(397.04,563.28) scale(1,0.9)" text-anchor="middle" font-size="7.4" font-family="Liberation Sans, Arial, sans-serif" stroke="#1a1a1a" stroke-width="0.12" fill="#1a1a1a">200</text>
<line x1="415.43" y1="553.2" x2="415.43" y2="554.8" stroke="#333" stroke-width="0.8"/>
<line x1="433.81" y1="553.2" x2="433.81" y2="556" stroke="#333" stroke-width="0.8"/>
<text transform="translate(433.81,563.28) scale(1,0.9)" text-anchor="middle" font-size="7.4" font-family="Liberation Sans, Arial, sans-serif" stroke="#1a1a1a" stroke-width="0.12" fill="#1a1a1a">300</text>
<line x1="452.2" y1="553.2" x2="452.2" y2="554.8" stroke="#333" stroke-width="0.8"/>
<line x1="470.58" y1="553.2" x2="470.58" y2="556" stroke="#333" stroke-width="0.8"/>
<text transform="translate(470.58,563.28) scale(1,0.9)" text-anchor="middle" font-size="7.4" font-family="Liberation Sans, Arial, sans-serif" stroke="#1a1a1a" stroke-width="0.12" fill="#1a1a1a">400</text>
<line x1="488.97" y1="553.2" x2="488.97" y2="554.8" stroke="#333" stroke-width="0.8"/>
<line x1="507.35" y1="553.2" x2="507.35" y2="556" stroke="#333" stroke-width="0.8"/>
<text transform="translate(507.35,563.28) scale(1,0.9)" text-anchor="middle" font-size="7.4" font-family="Liberation Sans, Arial, sans-serif" stroke="#1a1a1a" stroke-width="0.12" fill="#1a1a1a">500</text>
<line x1="525.74" y1="553.2" x2="525.74" y2="554.8" stroke="#333" stroke-width="0.8"/>
<line x1="544.12" y1="553.2" x2="544.12" y2="556" stroke="#333" stroke-width="0.8"/>
<text transform="translate(544.12,563.28) scale(1,0.9)" text-anchor="middle" font-size="7.4" font-family="Liberation Sans, Arial, sans-serif" stroke="#1a1a1a" stroke-width="0.12" fill="#1a1a1a">600</text>
<text x="432.9" y="577" text-anchor="middle" font-size="8.9" font-family="Liberation Sans, Arial, sans-serif" stroke="#222" stroke-width="0.12" fill="#111">time/s</text>
<text transform="translate(302.8,465.6) rotate(-90)" text-anchor="middle" font-size="8.9" font-family="Liberation Sans, Arial, sans-serif" stroke="#222" stroke-width="0.12" fill="#111">Potential/ kV</text>
<rect x="415.1" y="395.1" width="40.5" height="12.5" fill="#999"/>
<rect x="414.1" y="394.1" width="40.5" height="12.5" fill="#fff" stroke="#333" stroke-width="0.8"/>
<text x="434.35" y="403.25" text-anchor="middle" font-size="8.6" font-family="Liberation Sans, Arial, sans-serif" stroke="#222" stroke-width="0.12" fill="#111">60% RH</text>
<polyline points="323.5,541.36 335.41,541.36" fill="none" stroke="#909090" stroke-width="3.6" stroke-linejoin="round"/>
<polyline points="323.5,541.36 335.41,541.36" fill="none" stroke="#222" stroke-width="1.9" stroke-linejoin="round"/>
<polyline points="335.41,541.36 335.41,392.95" fill="none" stroke="#6e6e6e" stroke-width="1.1"/>
<polygon points="335.49,401.18 335.83,401.18 336.18,401.18 336.52,401.18 336.86,401.18 337.21,401.18 337.55,401.18 337.9,401.18 338.24,401.18 338.58,401.18 338.93,401.18 339.27,401.18 339.62,401.18 339.96,401.18 340.3,401.18 340.3,404.78 339.96,404.78 339.62,404.78 339.27,404.78 338.93,404.78 338.58,404.78 338.24,404.78 337.9,404.78 337.55,404.78 337.21,404.78 336.86,404.78 336.52,404.78 336.18,404.78 335.83,404.78 335.49,404.78" fill="#111"/>
<polyline points="340.3,397.2 340.3,540.51" fill="none" stroke="#6e6e6e" stroke-width="1.1"/>
<polyline points="340.3,540.51 345.82,540.51" fill="none" stroke="#909090" stroke-width="3.6" stroke-linejoin="round"/>
<polyline points="340.3,540.51 345.82,540.51" fill="none" stroke="#222" stroke-width="1.9" stroke-linejoin="round"/>
<polyline points="345.82,540.51 345.82,393.8" fill="none" stroke="#6e6e6e" stroke-width="1.1"/>
<polygon points="345.89,400.5 346.28,400.5 346.67,400.5 347.06,400.5 347.45,400.5 347.84,400.5 348.23,400.5 348.61,400.5 349,400.5 349.39,400.5 349.78,400.5 350.17,400.5 350.56,400.5 350.95,400.5 351.33,400.5 351.33,404.1 350.95,404.1 350.56,404.1 350.17,404.1 349.78,404.1 349.39,404.1 349,404.1 348.61,404.1 348.23,404.1 347.84,404.1 347.45,404.1 347.06,404.1 346.67,404.1 346.28,404.1 345.89,404.1" fill="#111"/>
<polyline points="351.33,395.5 351.33,540.51" fill="none" stroke="#6e6e6e" stroke-width="1.1"/>
<polyline points="351.33,540.51 357.03,540.51" fill="none" stroke="#909090" stroke-width="3.6" stroke-linejoin="round"/>
<polyline points="351.33,540.51 357.03,540.51" fill="none" stroke="#222" stroke-width="1.9" stroke-linejoin="round"/>
<polyline points="357.03,540.51 357.03,397.2" fill="none" stroke="#6e6e6e" stroke-width="1.1"/>
<polygon points="357.11,400.5 357.48,400.5 357.84,400.5 358.21,400.5 358.58,400.5 358.95,400.5 359.31,400.5 359.68,400.5 360.05,400.5 360.42,400.5 360.78,400.5 361.15,400.5 361.52,400.5 361.89,400.5 362.26,400.5 362.26,404.1 361.89,404.1 361.52,404.1 361.15,404.1 360.78,404.1 360.42,404.1 360.05,404.1 359.68,404.1 359.31,404.1 358.95,404.1 358.58,404.1 358.21,404.1 357.84,404.1 357.48,404.1 357.11,404.1" fill="#111"/>
<polyline points="362.26,397.2 362.26,540.85" fill="none" stroke="#6e6e6e" stroke-width="1.1"/>
<polyline points="362.26,540.85 367.62,540.85" fill="none" stroke="#909090" stroke-width="3.6" stroke-linejoin="round"/>
<polyline points="362.26,540.85 367.62,540.85" fill="none" stroke="#222" stroke-width="1.9" stroke-linejoin="round"/>
<polyline points="367.62,540.85 373.14,542.04 505.88,542.04" fill="none" stroke="#909090" stroke-width="3.6" stroke-linejoin="round"/>
<polyline points="367.62,540.85 373.14,542.04 505.88,542.04" fill="none" stroke="#222" stroke-width="1.9" stroke-linejoin="round"/>
<polyline points="373.65,542.04 373.65,531.5" fill="none" stroke="#444" stroke-width="0.85"/>
<polyline points="395.64,542.04 395.64,550.2" fill="none" stroke="#444" stroke-width="0.85"/>
<polyline points="417.56,542.04 417.56,530.99" fill="none" stroke="#444" stroke-width="0.85"/>
<polyline points="439.8,542.04 439.8,550.2" fill="none" stroke="#444" stroke-width="0.85"/>
<polyline points="461.68,542.04 461.68,530.99" fill="none" stroke="#444" stroke-width="0.85"/>
<polyline points="483.71,542.04 483.71,550.71" fill="none" stroke="#444" stroke-width="0.85"/>
<polyline points="505.88,542.04 505.88,538.81" fill="none" stroke="#444" stroke-width="0.85"/>
<polyline points="505.88,538.81 511.54,538.81" fill="none" stroke="#909090" stroke-width="3.6" stroke-linejoin="round"/>
<polyline points="505.88,538.81 511.54,538.81" fill="none" stroke="#222" stroke-width="1.9" stroke-linejoin="round"/>
<polyline points="511.54,538.81 511.54,390.06" fill="none" stroke="#6e6e6e" stroke-width="1.1"/>
<polygon points="511.62,393.19 512,393.19 512.39,393.19 512.78,393.19 513.17,393.19 513.56,393.19 513.95,393.19 514.34,393.19 514.73,393.19 515.11,393.19 515.5,393.19 515.89,393.19 516.28,393.19 516.67,393.19 517.06,393.19 517.06,396.79 516.67,396.79 516.28,396.79 515.89,396.79 515.5,396.79 515.11,396.79 514.73,396.79 514.34,396.79 513.95,396.79 513.56,396.79 513.17,396.79 512.78,396.79 512.39,396.79 512,396.79 511.62,396.79" fill="#111"/>
<polyline points="517.06,392.1 517.06,540" fill="none" stroke="#6e6e6e" stroke-width="1.1"/>
<polyline points="517.06,540 522.57,540" fill="none" stroke="#909090" stroke-width="3.6" stroke-linejoin="round"/>
<polyline points="517.06,540 522.57,540" fill="none" stroke="#222" stroke-width="1.9" stroke-linejoin="round"/>
<polyline points="522.57,540 522.57,392.1" fill="none" stroke="#6e6e6e" stroke-width="1.1"/>
<polygon points="522.65,398.12 523.01,398.12 523.38,398.12 523.75,398.12 524.12,398.12 524.48,398.12 524.85,398.12 525.22,398.12 525.59,398.12 525.96,398.12 526.32,398.12 526.69,398.12 527.06,398.12 527.43,398.12 527.79,398.12 527.79,401.72 527.43,401.72 527.06,401.72 526.69,401.72 526.32,401.72 525.96,401.72 525.59,401.72 525.22,401.72 524.85,401.72 524.48,401.72 524.12,401.72 523.75,401.72 523.38,401.72 523.01,401.72 522.65,401.72" fill="#111"/>
<polyline points="527.79,394.65 527.79,540" fill="none" stroke="#6e6e6e" stroke-width="1.1"/>
<polyline points="527.79,540 533.49,540" fill="none" stroke="#909090" stroke-width="3.6" stroke-linejoin="round"/>
<polyline points="527.79,540 533.49,540" fill="none" stroke="#222" stroke-width="1.9" stroke-linejoin="round"/>
<polyline points="533.49,540 533.49,393.8" fill="none" stroke="#6e6e6e" stroke-width="1.1"/>
<polygon points="533.57,398.63 533.95,398.63 534.34,398.63 534.73,398.63 535.11,398.63 535.5,398.63 535.88,398.63 536.27,398.63 536.66,398.63 537.04,398.63 537.43,398.63 537.81,398.63 538.2,398.63 538.59,398.63 538.97,398.63 538.97,402.23 538.59,402.23 538.2,402.23 537.81,402.23 537.43,402.23 537.04,402.23 536.66,402.23 536.27,402.23 535.88,402.23 535.5,402.23 535.11,402.23 534.73,402.23 534.34,402.23 533.95,402.23 533.57,402.23" fill="#111"/>
<polyline points="538.97,392.95 538.97,540" fill="none" stroke="#6e6e6e" stroke-width="1.1"/>
<polyline points="538.97,540 544.86,540" fill="none" stroke="#909090" stroke-width="3.6" stroke-linejoin="round"/>
<polyline points="538.97,540 544.86,540" fill="none" stroke="#222" stroke-width="1.9" stroke-linejoin="round"/>
<polyline points="517.06,540 517.06,546.12" fill="none" stroke="#444" stroke-width="0.85"/>
</g>
<g>
<line x1="184.7" y1="581.3" x2="184.7" y2="745.7" stroke="#333" stroke-width="1"/>
<line x1="184.2" y1="745.2" x2="410.1" y2="745.2" stroke="#444" stroke-width="1"/>
<line x1="181.5" y1="735.2" x2="184.7" y2="735.2" stroke="#333" stroke-width="0.8"/>
<text transform="translate(179.3,737.02) scale(1,0.95)" text-anchor="end" font-size="7.4" font-family="Liberation Sans, Arial, sans-serif" stroke="#1a1a1a" stroke-width="0.12" fill="#1a1a1a">0.0</text>
<line x1="182.7" y1="720" x2="184.7" y2="720" stroke="#333" stroke-width="0.8"/>
<line x1="181.5" y1="704.8" x2="184.7" y2="704.8" stroke="#333" stroke-width="0.8"/>
<text transform="translate(179.3,706.62) scale(1,0.95)" text-anchor="end" font-size="7.4" font-family="Liberation Sans, Arial, sans-serif" stroke="#1a1a1a" stroke-width="0.12" fill="#1a1a1a">0.2</text>
<line x1="182.7" y1="689.6" x2="184.7" y2="689.6" stroke="#333" stroke-width="0.8"/>
<line x1="181.5" y1="674.4" x2="184.7" y2="674.4" stroke="#333" stroke-width="0.8"/>
<text transform="translate(179.3,676.22) scale(1,0.95)" text-anchor="end" font-size="7.4" font-family="Liberation Sans, Arial, sans-serif" stroke="#1a1a1a" stroke-width="0.12" fill="#1a1a1a">0.4</text>
<line x1="182.7" y1="659.2" x2="184.7" y2="659.2" stroke="#333" stroke-width="0.8"/>
<line x1="181.5" y1="644" x2="184.7" y2="644" stroke="#333" stroke-width="0.8"/>
<text transform="translate(179.3,645.82) scale(1,0.95)" text-anchor="end" font-size="7.4" font-family="Liberation Sans, Arial, sans-serif" stroke="#1a1a1a" stroke-width="0.12" fill="#1a1a1a">0.6</text>
<line x1="182.7" y1="628.8" x2="184.7" y2="628.8" stroke="#333" stroke-width="0.8"/>
<line x1="181.5" y1="613.6" x2="184.7" y2="613.6" stroke="#333" stroke-width="0.8"/>
<text transform="translate(179.3,615.42) scale(1,0.95)" text-anchor="end" font-size="7.4" font-family="Liberation Sans, Arial, sans-serif" stroke="#1a1a1a" stroke-width="0.12" fill="#1a1a1a">0.8</text>
<line x1="182.7" y1="598.4" x2="184.7" y2="598.4" stroke="#333" stroke-width="0.8"/>
<line x1="181.5" y1="583.2" x2="184.7" y2="583.2" stroke="#333" stroke-width="0.8"/>
<text transform="translate(179.3,585.02) scale(1,0.95)" text-anchor="end" font-size="7.4" font-family="Liberation Sans, Arial, sans-serif" stroke="#1a1a1a" stroke-width="0.12" fill="#1a1a1a">1.0</text>
<line x1="186.6" y1="745.2" x2="186.6" y2="748" stroke="#333" stroke-width="0.8"/>
<text transform="translate(186.6,755.42) scale(1,0.95)" text-anchor="middle" font-size="7.4" font-family="Liberation Sans, Arial, sans-serif" stroke="#1a1a1a" stroke-width="0.12" fill="#1a1a1a">0</text>
<line x1="205.1" y1="745.2" x2="205.1" y2="746.8" stroke="#333" stroke-width="0.8"/>
<line x1="223.6" y1="745.2" x2="223.6" y2="748" stroke="#333" stroke-width="0.8"/>
<text transform="translate(223.6,755.42) scale(1,0.95)" text-anchor="middle" font-size="7.4" font-family="Liberation Sans, Arial, sans-serif" stroke="#1a1a1a" stroke-width="0.12" fill="#1a1a1a">100</text>
<line x1="242.1" y1="745.2" x2="242.1" y2="746.8" stroke="#333" stroke-width="0.8"/>
<line x1="260.6" y1="745.2" x2="260.6" y2="748" stroke="#333" stroke-width="0.8"/>
<text transform="translate(260.6,755.42) scale(1,0.95)" text-anchor="middle" font-size="7.4" font-family="Liberation Sans, Arial, sans-serif" stroke="#1a1a1a" stroke-width="0.12" fill="#1a1a1a">200</text>
<line x1="279.1" y1="745.2" x2="279.1" y2="746.8" stroke="#333" stroke-width="0.8"/>
<line x1="297.6" y1="745.2" x2="297.6" y2="748" stroke="#333" stroke-width="0.8"/>
<text transform="translate(297.6,755.42) scale(1,0.95)" text-anchor="middle" font-size="7.4" font-family="Liberation Sans, Arial, sans-serif" stroke="#1a1a1a" stroke-width="0.12" fill="#1a1a1a">300</text>
<line x1="316.1" y1="745.2" x2="316.1" y2="746.8" stroke="#333" stroke-width="0.8"/>
<line x1="334.6" y1="745.2" x2="334.6" y2="748" stroke="#333" stroke-width="0.8"/>
<text transform="translate(334.6,755.42) scale(1,0.95)" text-anchor="middle" font-size="7.4" font-family="Liberation Sans, Arial, sans-serif" stroke="#1a1a1a" stroke-width="0.12" fill="#1a1a1a">400</text>
<line x1="353.1" y1="745.2" x2="353.1" y2="746.8" stroke="#333" stroke-width="0.8"/>
<line x1="371.6" y1="745.2" x2="371.6" y2="748" stroke="#333" stroke-width="0.8"/>
<text transform="translate(371.6,755.42) scale(1,0.95)" text-anchor="middle" font-size="7.4" font-family="Liberation Sans, Arial, sans-serif" stroke="#1a1a1a" stroke-width="0.12" fill="#1a1a1a">500</text>
<line x1="390.1" y1="745.2" x2="390.1" y2="746.8" stroke="#333" stroke-width="0.8"/>
<line x1="408.6" y1="745.2" x2="408.6" y2="748" stroke="#333" stroke-width="0.8"/>
<text transform="translate(408.6,755.42) scale(1,0.95)" text-anchor="middle" font-size="7.4" font-family="Liberation Sans, Arial, sans-serif" stroke="#1a1a1a" stroke-width="0.12" fill="#1a1a1a">600</text>
<text x="296.4" y="767.5" text-anchor="middle" font-size="8.9" font-family="Liberation Sans, Arial, sans-serif" stroke="#222" stroke-width="0.12" fill="#111">time/s</text>
<text transform="translate(165.6,657.65) rotate(-90)" text-anchor="middle" font-size="8.9" font-family="Liberation Sans, Arial, sans-serif" stroke="#222" stroke-width="0.12" fill="#111">Potential/ kV</text>
<rect x="278.9" y="588.1" width="38.7" height="12.4" fill="#999"/>
<rect x="277.9" y="587.1" width="38.7" height="12.4" fill="#fff" stroke="#333" stroke-width="0.8"/>
<text x="297.25" y="596.2" text-anchor="middle" font-size="8.6" font-family="Liberation Sans, Arial, sans-serif" stroke="#222" stroke-width="0.12" fill="#111">70% RH</text>
<polyline points="186.6,736.42 198.22,736.42" fill="none" stroke="#909090" stroke-width="4.4" stroke-linejoin="round"/>
<polyline points="186.6,736.42 198.22,736.42" fill="none" stroke="#222" stroke-width="2.3" stroke-linejoin="round"/>
<polyline points="198.22,736.42 198.22,585.94" fill="none" stroke="#6e6e6e" stroke-width="1.1"/>
<polygon points="198.29,590.52 198.66,590.52 199.02,590.52 199.39,590.52 199.75,590.52 200.12,590.52 200.48,590.52 200.84,590.52 201.21,590.52 201.57,590.52 201.94,590.52 202.3,590.52 202.67,590.52 203.03,590.52 203.4,590.52 203.4,594.12 203.03,594.12 202.67,594.12 202.3,594.12 201.94,594.12 201.57,594.12 201.21,594.12 200.84,594.12 200.48,594.12 200.12,594.12 199.75,594.12 199.39,594.12 199.02,594.12 198.66,594.12 198.29,594.12" fill="#111"/>
<polyline points="203.4,584.26 203.4,736.42" fill="none" stroke="#6e6e6e" stroke-width="1.1"/>
<polyline points="203.4,736.42 209.39,736.42" fill="none" stroke="#909090" stroke-width="4.4" stroke-linejoin="round"/>
<polyline points="203.4,736.42 209.39,736.42" fill="none" stroke="#222" stroke-width="2.3" stroke-linejoin="round"/>
<polyline points="209.39,736.42 209.39,587" fill="none" stroke="#6e6e6e" stroke-width="1.1"/>
<polygon points="209.47,590.06 209.82,590.06 210.17,590.06 210.52,590.06 210.87,590.06 211.22,590.06 211.57,590.06 211.93,590.06 212.28,590.06 212.63,590.06 212.98,590.06 213.33,590.06 213.68,590.06 214.04,590.06 214.39,590.06 214.39,593.66 214.04,593.66 213.68,593.66 213.33,593.66 212.98,593.66 212.63,593.66 212.28,593.66 211.93,593.66 211.57,593.66 211.22,593.66 210.87,593.66 210.52,593.66 210.17,593.66 209.82,593.66 209.47,593.66" fill="#111"/>
<polyline points="214.39,584.26 214.39,736.42" fill="none" stroke="#6e6e6e" stroke-width="1.1"/>
<polyline points="214.39,736.42 220.42,736.42" fill="none" stroke="#909090" stroke-width="4.4" stroke-linejoin="round"/>
<polyline points="214.39,736.42 220.42,736.42" fill="none" stroke="#222" stroke-width="2.3" stroke-linejoin="round"/>
<polyline points="220.42,736.42 220.42,587.76" fill="none" stroke="#6e6e6e" stroke-width="1.1"/>
<polygon points="220.49,591.13 220.85,591.13 221.21,591.13 221.56,591.13 221.92,591.13 222.28,591.13 222.63,591.13 222.99,591.13 223.35,591.13 223.7,591.13 224.06,591.13 224.42,591.13 224.77,591.13 225.13,591.13 225.49,591.13 225.49,594.73 225.13,594.73 224.77,594.73 224.42,594.73 224.06,594.73 223.7,594.73 223.35,594.73 222.99,594.73 222.63,594.73 222.28,594.73 221.92,594.73 221.56,594.73 221.21,594.73 220.85,594.73 220.49,594.73" fill="#111"/>
<polyline points="225.49,586.24 225.49,735.66" fill="none" stroke="#6e6e6e" stroke-width="1.1"/>
<polyline points="225.49,735.66 228.04,735.66" fill="none" stroke="#909090" stroke-width="4.4" stroke-linejoin="round"/>
<polyline points="225.49,735.66 228.04,735.66" fill="none" stroke="#222" stroke-width="2.3" stroke-linejoin="round"/>
<polyline points="228.04,735.66 232.85,737.33 370.12,737.33" fill="none" stroke="#909090" stroke-width="4.4" stroke-linejoin="round"/>
<polyline points="228.04,735.66 232.85,737.33 370.12,737.33" fill="none" stroke="#222" stroke-width="2.3" stroke-linejoin="round"/>
<polyline points="236.29,737.33 236.29,731.55" fill="none" stroke="#444" stroke-width="0.85"/>
<polyline points="259.12,737.33 259.12,732.16" fill="none" stroke="#444" stroke-width="0.85"/>
<polyline points="280.95,737.33 280.95,731.55" fill="none" stroke="#444" stroke-width="0.85"/>
<polyline points="303.3,737.33 303.3,731.55" fill="none" stroke="#444" stroke-width="0.85"/>
<polyline points="325.61,737.33 325.61,731.55" fill="none" stroke="#444" stroke-width="0.85"/>
<polyline points="347.7,737.33 347.7,731.55" fill="none" stroke="#444" stroke-width="0.85"/>
<polyline points="370.12,737.33 370.12,736.42" fill="none" stroke="#444" stroke-width="0.85"/>
<polyline points="370.12,736.42 375.41,736.42" fill="none" stroke="#909090" stroke-width="4.4" stroke-linejoin="round"/>
<polyline points="370.12,736.42 375.41,736.42" fill="none" stroke="#222" stroke-width="2.3" stroke-linejoin="round"/>
<polyline points="375.41,736.42 375.41,599.16" fill="none" stroke="#6e6e6e" stroke-width="1.1"/>
<polygon points="375.49,602.74 375.98,603.03 376.47,603.2 376.97,603.3 377.46,603.36 377.96,603.39 378.45,603.41 378.94,603.42 379.44,603.43 379.93,603.43 380.43,603.44 380.92,603.44 381.42,603.44 381.91,603.44 382.4,603.44 382.4,607.04 381.91,607.04 381.42,607.04 380.92,607.04 380.43,607.04 379.93,607.03 379.44,607.03 378.94,607.02 378.45,607.01 377.96,606.99 377.46,606.96 376.97,606.9 376.47,606.8 375.98,606.63 375.49,606.34" fill="#111"/>
<polyline points="382.4,604.48 382.4,736.57" fill="none" stroke="#6e6e6e" stroke-width="1.1"/>
<polyline points="382.4,736.57 386.4,736.57" fill="none" stroke="#909090" stroke-width="4.4" stroke-linejoin="round"/>
<polyline points="382.4,736.57 386.4,736.57" fill="none" stroke="#222" stroke-width="2.3" stroke-linejoin="round"/>
<polyline points="386.4,736.57 386.4,601.44" fill="none" stroke="#6e6e6e" stroke-width="1.1"/>
<polygon points="386.47,605.57 386.86,605.57 387.25,605.57 387.64,605.57 388.03,605.57 388.42,605.57 388.8,605.57 389.19,605.57 389.58,605.57 389.97,605.57 390.36,605.57 390.75,605.57 391.14,605.57 391.52,605.57 391.91,605.57 391.91,609.17 391.52,609.17 391.14,609.17 390.75,609.17 390.36,609.17 389.97,609.17 389.58,609.17 389.19,609.17 388.8,609.17 388.42,609.17 388.03,609.17 387.64,609.17 387.25,609.17 386.86,609.17 386.47,609.17" fill="#111"/>
<polyline points="391.91,597.03 391.91,736.57" fill="none" stroke="#6e6e6e" stroke-width="1.1"/>
<polyline points="391.91,736.57 397.61,736.57" fill="none" stroke="#909090" stroke-width="4.4" stroke-linejoin="round"/>
<polyline points="391.91,736.57 397.61,736.57" fill="none" stroke="#222" stroke-width="2.3" stroke-linejoin="round"/>
<polyline points="397.61,736.57 397.61,599.16" fill="none" stroke="#6e6e6e" stroke-width="1.1"/>
<polygon points="397.69,606.63 398.09,606.63 398.49,606.63 398.89,606.63 399.29,606.63 399.69,606.63 400.1,606.63 400.5,606.63 400.9,606.63 401.3,606.63 401.7,606.63 402.1,606.63 402.51,606.63 402.91,606.63 403.31,606.63 403.31,610.23 402.91,610.23 402.51,610.23 402.1,610.23 401.7,610.23 401.3,610.23 400.9,610.23 400.5,610.23 400.1,610.23 399.69,610.23 399.29,610.23 398.89,610.23 398.49,610.23 398.09,610.23 397.69,610.23" fill="#111"/>
<polyline points="403.31,604.48 403.31,736.57" fill="none" stroke="#6e6e6e" stroke-width="1.1"/>
<polyline points="403.31,736.57 409.34,736.57" fill="none" stroke="#909090" stroke-width="4.4" stroke-linejoin="round"/>
<polyline points="403.31,736.57 409.34,736.57" fill="none" stroke="#222" stroke-width="2.3" stroke-linejoin="round"/>
<polyline points="392.13,736.42 392.13,741.58" fill="none" stroke="#444" stroke-width="0.85"/>
<polyline points="403.42,736.42 403.42,741.58" fill="none" stroke="#444" stroke-width="0.85"/>
</g>
</svg></body></html>
